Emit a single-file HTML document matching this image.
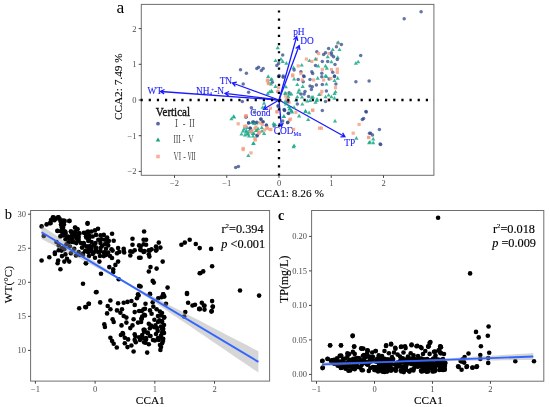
<!DOCTYPE html>
<html><head><meta charset="utf-8"><title>CCA figure</title><style>
*{margin:0;padding:0}
html,body{width:550px;height:407px;overflow:hidden;background:#fff}
svg{display:block}
text{font-family:"Liberation Serif","Noto Serif CJK SC",serif}
.tk{font-size:8.5px;fill:#4d4d4d}
.at{font-size:11.3px;fill:#000;stroke:#000;stroke-width:0.1px}
.pl{font-size:15px;fill:#000}
.al{font-size:9.4px;fill:#1a1aff;stroke:#1a1aff;stroke-width:0.1px}
.lt{font-size:11.5px;fill:#111;stroke:#111;stroke-width:0.35px}
.lg{font-size:9.6px;fill:#3d3d3d;text-anchor:middle;font-family:"Liberation Serif","Noto Serif CJK SC",serif}
.rt{font-size:12.3px;fill:#000;stroke:#000;stroke-width:0.15px}
</style></head>
<body><svg width="550" height="407" viewBox="0 0 550 407">
<rect width="550" height="407" fill="#fff"/>
<rect x="141.3" y="4.4" width="292.6" height="170.9" fill="none" stroke="#6e6e6e" stroke-width="1"/>
<line x1="174.5" y1="175.3" x2="174.5" y2="177.9" stroke="#444" stroke-width="1"/>
<text x="174.5" y="185.8" class="tk" text-anchor="middle">−2</text>
<line x1="226.75" y1="175.3" x2="226.75" y2="177.9" stroke="#444" stroke-width="1"/>
<text x="226.75" y="185.8" class="tk" text-anchor="middle">−1</text>
<line x1="279.0" y1="175.3" x2="279.0" y2="177.9" stroke="#444" stroke-width="1"/>
<text x="279.0" y="185.8" class="tk" text-anchor="middle">0</text>
<line x1="331.25" y1="175.3" x2="331.25" y2="177.9" stroke="#444" stroke-width="1"/>
<text x="331.25" y="185.8" class="tk" text-anchor="middle">1</text>
<line x1="383.5" y1="175.3" x2="383.5" y2="177.9" stroke="#444" stroke-width="1"/>
<text x="383.5" y="185.8" class="tk" text-anchor="middle">2</text>
<line x1="138.70000000000002" y1="28.599999999999994" x2="141.3" y2="28.599999999999994" stroke="#444" stroke-width="1"/>
<text x="136.5" y="31.499999999999993" class="tk" text-anchor="end">2</text>
<line x1="138.70000000000002" y1="64.3" x2="141.3" y2="64.3" stroke="#444" stroke-width="1"/>
<text x="136.5" y="67.2" class="tk" text-anchor="end">1</text>
<line x1="138.70000000000002" y1="100.0" x2="141.3" y2="100.0" stroke="#444" stroke-width="1"/>
<text x="136.5" y="102.9" class="tk" text-anchor="end">0</text>
<line x1="138.70000000000002" y1="135.7" x2="141.3" y2="135.7" stroke="#444" stroke-width="1"/>
<text x="136.5" y="138.6" class="tk" text-anchor="end">−1</text>
<line x1="138.70000000000002" y1="171.4" x2="141.3" y2="171.4" stroke="#444" stroke-width="1"/>
<text x="136.5" y="174.3" class="tk" text-anchor="end">−2</text>
<path d="M279 100L160.5 91.5M164.2 94L160.5 91.5L164.5 89.5" fill="none" stroke="#1a1aff" stroke-width="1.3"/>
<path d="M279 100L225 93.3M228.6 96L225 93.3L229.1 91.5" fill="none" stroke="#1a1aff" stroke-width="1.3"/>
<path d="M279 100L232.4 83M235.3 86.4L232.4 83L236.8 82.2" fill="none" stroke="#1a1aff" stroke-width="1.3"/>
<path d="M279 100L296.7 36.4M293.5 39.6L296.7 36.4L297.8 40.8" fill="none" stroke="#1a1aff" stroke-width="1.3"/>
<path d="M279 100L299.2 45.6M295.7 48.5L299.2 45.6L300 50" fill="none" stroke="#1a1aff" stroke-width="1.3"/>
<path d="M279 100L263.5 109.3M268 109.2L263.5 109.3L265.7 105.4" fill="none" stroke="#1a1aff" stroke-width="1.3"/>
<path d="M279 100L281.4 126.8M283.3 122.7L281.4 126.8L278.8 123.1" fill="none" stroke="#1a1aff" stroke-width="1.3"/>
<path d="M279 100L344.9 136.7M342.6 132.8L344.9 136.7L340.4 136.8" fill="none" stroke="#1a1aff" stroke-width="1.3"/>
<g class="al" text-anchor="middle"><text x="154.85" y="94.2">WT</text><text x="210" y="93.8">NH<tspan font-size="5" dy="0.8">4</tspan><tspan font-size="5" dx="-0.6" dy="-3.6">+</tspan><tspan dy="2.8">-N</tspan></text><text x="225.9" y="84.3">TN</text><text x="298.9" y="35.3">pH</text><text x="307" y="44.2">DO</text><text x="260.4" y="115.9">Cond</text><text x="287.5" y="134.2">COD<tspan font-size="5.5" dy="1.5">Mn</tspan></text><text x="349.8" y="145.8">TP</text></g>
<path d="M277.7 45.6L279.8 49.2L275.6 49.2Z" fill="#1aa98a" fill-opacity="0.85"/>
<circle cx="282.7" cy="55" r="1.75" fill="#2d4789" fill-opacity="0.75"/>
<path d="M275.5 58.4L277.6 62L273.4 62Z" fill="#1aa98a" fill-opacity="0.85"/>
<path d="M280.9 57L283 60.6L278.8 60.6Z" fill="#1aa98a" fill-opacity="0.85"/>
<path d="M282.7 59.3L284.8 62.9L280.6 62.9Z" fill="#1aa98a" fill-opacity="0.85"/>
<path d="M286.4 61.1L288.5 64.7L284.3 64.7Z" fill="#1aa98a" fill-opacity="0.85"/>
<circle cx="276.8" cy="65.5" r="1.75" fill="#2d4789" fill-opacity="0.75"/>
<circle cx="278.6" cy="63.6" r="1.75" fill="#2d4789" fill-opacity="0.75"/>
<path d="M293.6 65.6L295.7 69.2L291.5 69.2Z" fill="#1aa98a" fill-opacity="0.85"/>
<circle cx="294.1" cy="70" r="1.75" fill="#2d4789" fill-opacity="0.75"/>
<rect x="296.6" y="64.3" width="3.2" height="3.2" fill="#f59c80" fill-opacity="0.8"/>
<path d="M301.8 62.9L303.9 66.5L299.7 66.5Z" fill="#1aa98a" fill-opacity="0.85"/>
<rect x="304.8" y="57.5" width="3.2" height="3.2" fill="#f59c80" fill-opacity="0.8"/>
<path d="M309.5 58.4L311.6 62L307.4 62Z" fill="#1aa98a" fill-opacity="0.85"/>
<rect x="310.2" y="59.8" width="3.2" height="3.2" fill="#f59c80" fill-opacity="0.8"/>
<rect x="314.8" y="57.5" width="3.2" height="3.2" fill="#f59c80" fill-opacity="0.8"/>
<path d="M315.5 57L317.6 60.6L313.4 60.6Z" fill="#1aa98a" fill-opacity="0.85"/>
<circle cx="316.8" cy="51.8" r="1.75" fill="#2d4789" fill-opacity="0.75"/>
<rect x="317" y="52" width="3.2" height="3.2" fill="#f59c80" fill-opacity="0.8"/>
<circle cx="315.5" cy="65.5" r="1.75" fill="#2d4789" fill-opacity="0.75"/>
<path d="M318.2 63.8L320.3 67.4L316.1 67.4Z" fill="#1aa98a" fill-opacity="0.85"/>
<circle cx="300.9" cy="71.8" r="1.75" fill="#2d4789" fill-opacity="0.75"/>
<rect x="299.3" y="72" width="3.2" height="3.2" fill="#f59c80" fill-opacity="0.8"/>
<circle cx="311.8" cy="71.8" r="1.75" fill="#2d4789" fill-opacity="0.75"/>
<circle cx="312.7" cy="73.6" r="1.75" fill="#2d4789" fill-opacity="0.75"/>
<circle cx="279.1" cy="75.5" r="1.75" fill="#2d4789" fill-opacity="0.75"/>
<circle cx="283.2" cy="75.9" r="1.75" fill="#2d4789" fill-opacity="0.75"/>
<rect x="291.1" y="73.4" width="3.2" height="3.2" fill="#f59c80" fill-opacity="0.8"/>
<circle cx="303.6" cy="75.9" r="1.75" fill="#2d4789" fill-opacity="0.75"/>
<rect x="336.1" y="41.6" width="3.2" height="3.2" fill="#f59c80" fill-opacity="0.8"/>
<path d="M338.2 40.2L340.3 43.8L336.1 43.8Z" fill="#1aa98a" fill-opacity="0.85"/>
<circle cx="341.4" cy="44.4" r="1.75" fill="#2d4789" fill-opacity="0.75"/>
<circle cx="336.4" cy="46.8" r="1.75" fill="#2d4789" fill-opacity="0.75"/>
<circle cx="328.6" cy="48.6" r="1.75" fill="#2d4789" fill-opacity="0.75"/>
<path d="M332.7 47.4L334.8 51L330.6 51Z" fill="#1aa98a" fill-opacity="0.85"/>
<path d="M339.5 47.4L341.6 51L337.4 51Z" fill="#1aa98a" fill-opacity="0.85"/>
<circle cx="325.5" cy="52.7" r="1.75" fill="#2d4789" fill-opacity="0.75"/>
<circle cx="323.6" cy="54.5" r="1.75" fill="#2d4789" fill-opacity="0.75"/>
<rect x="327.5" y="52" width="3.2" height="3.2" fill="#f59c80" fill-opacity="0.8"/>
<circle cx="331.4" cy="52.7" r="1.75" fill="#2d4789" fill-opacity="0.75"/>
<circle cx="331.8" cy="55" r="1.75" fill="#2d4789" fill-opacity="0.75"/>
<path d="M327.7 54.7L329.8 58.3L325.6 58.3Z" fill="#1aa98a" fill-opacity="0.85"/>
<circle cx="333.6" cy="56.8" r="1.75" fill="#2d4789" fill-opacity="0.75"/>
<path d="M337.7 55.2L339.8 58.8L335.6 58.8Z" fill="#1aa98a" fill-opacity="0.85"/>
<circle cx="337.3" cy="59.5" r="1.75" fill="#2d4789" fill-opacity="0.75"/>
<circle cx="322.3" cy="61.4" r="1.75" fill="#2d4789" fill-opacity="0.75"/>
<circle cx="327.7" cy="61.4" r="1.75" fill="#2d4789" fill-opacity="0.75"/>
<path d="M331.4 59.7L333.5 63.3L329.3 63.3Z" fill="#1aa98a" fill-opacity="0.85"/>
<circle cx="335" cy="64.5" r="1.75" fill="#2d4789" fill-opacity="0.75"/>
<path d="M325.5 63.8L327.6 67.4L323.4 67.4Z" fill="#1aa98a" fill-opacity="0.85"/>
<path d="M326.8 66.1L328.9 69.7L324.7 69.7Z" fill="#1aa98a" fill-opacity="0.85"/>
<rect x="320.7" y="67.9" width="3.2" height="3.2" fill="#f59c80" fill-opacity="0.8"/>
<rect x="329.8" y="67.9" width="3.2" height="3.2" fill="#f59c80" fill-opacity="0.8"/>
<rect x="335.7" y="67.5" width="3.2" height="3.2" fill="#f59c80" fill-opacity="0.8"/>
<rect x="335.7" y="70.7" width="3.2" height="3.2" fill="#f59c80" fill-opacity="0.8"/>
<circle cx="332.7" cy="72.3" r="1.75" fill="#2d4789" fill-opacity="0.75"/>
<circle cx="321.8" cy="73.2" r="1.75" fill="#2d4789" fill-opacity="0.75"/>
<circle cx="334.5" cy="75.9" r="1.75" fill="#2d4789" fill-opacity="0.75"/>
<path d="M325.5 73.8L327.6 77.4L323.4 77.4Z" fill="#1aa98a" fill-opacity="0.85"/>
<circle cx="360.7" cy="55.6" r="1.75" fill="#2d4789" fill-opacity="0.75"/>
<path d="M355.9 61.1L358 64.7L353.8 64.7Z" fill="#1aa98a" fill-opacity="0.85"/>
<path d="M358.2 59.7L360.3 63.3L356.1 63.3Z" fill="#1aa98a" fill-opacity="0.85"/>
<circle cx="321.8" cy="76.8" r="1.75" fill="#2d4789" fill-opacity="0.75"/>
<rect x="322" y="78.4" width="3.2" height="3.2" fill="#f59c80" fill-opacity="0.8"/>
<path d="M326.4 74.3L328.5 77.9L324.3 77.9Z" fill="#1aa98a" fill-opacity="0.85"/>
<circle cx="329.1" cy="79.1" r="1.75" fill="#2d4789" fill-opacity="0.75"/>
<rect x="329.3" y="77" width="3.2" height="3.2" fill="#f59c80" fill-opacity="0.8"/>
<circle cx="334.5" cy="76.4" r="1.75" fill="#2d4789" fill-opacity="0.75"/>
<path d="M337.7 76.1L339.8 79.7L335.6 79.7Z" fill="#1aa98a" fill-opacity="0.85"/>
<path d="M334.5 78.4L336.6 82L332.4 82Z" fill="#1aa98a" fill-opacity="0.85"/>
<circle cx="322.3" cy="84.5" r="1.75" fill="#2d4789" fill-opacity="0.75"/>
<path d="M326.4 82L328.5 85.6L324.3 85.6Z" fill="#1aa98a" fill-opacity="0.85"/>
<circle cx="335.9" cy="84.1" r="1.75" fill="#2d4789" fill-opacity="0.75"/>
<rect x="333.9" y="86.1" width="3.2" height="3.2" fill="#f59c80" fill-opacity="0.8"/>
<rect x="320.2" y="89.8" width="3.2" height="3.2" fill="#f59c80" fill-opacity="0.8"/>
<circle cx="326.4" cy="90.9" r="1.75" fill="#2d4789" fill-opacity="0.75"/>
<path d="M335.5 89.7L337.6 93.3L333.4 93.3Z" fill="#1aa98a" fill-opacity="0.85"/>
<path d="M334.5 91.5L336.6 95.1L332.4 95.1Z" fill="#1aa98a" fill-opacity="0.85"/>
<rect x="319.3" y="92.5" width="3.2" height="3.2" fill="#f59c80" fill-opacity="0.8"/>
<path d="M325.5 94.7L327.6 98.3L323.4 98.3Z" fill="#1aa98a" fill-opacity="0.85"/>
<path d="M328.6 92.9L330.7 96.5L326.5 96.5Z" fill="#1aa98a" fill-opacity="0.85"/>
<path d="M331.4 94.7L333.5 98.3L329.3 98.3Z" fill="#1aa98a" fill-opacity="0.85"/>
<path d="M334.5 96.1L336.6 99.7L332.4 99.7Z" fill="#1aa98a" fill-opacity="0.85"/>
<rect x="327" y="98.4" width="3.2" height="3.2" fill="#f59c80" fill-opacity="0.8"/>
<circle cx="325.5" cy="101.4" r="1.75" fill="#2d4789" fill-opacity="0.75"/>
<circle cx="355.9" cy="81.8" r="1.75" fill="#2d4789" fill-opacity="0.75"/>
<circle cx="369.1" cy="80.9" r="1.75" fill="#2d4789" fill-opacity="0.75"/>
<circle cx="322.3" cy="110.5" r="1.75" fill="#2d4789" fill-opacity="0.75"/>
<circle cx="365.9" cy="111.4" r="1.75" fill="#2d4789" fill-opacity="0.75"/>
<path d="M335 118.8L337.1 122.4L332.9 122.4Z" fill="#1aa98a" fill-opacity="0.85"/>
<circle cx="362.3" cy="119.5" r="1.75" fill="#2d4789" fill-opacity="0.75"/>
<circle cx="363.6" cy="118.6" r="1.75" fill="#2d4789" fill-opacity="0.75"/>
<rect x="319.8" y="126.6" width="3.2" height="3.2" fill="#f59c80" fill-opacity="0.8"/>
<rect x="357.5" y="122.9" width="3.2" height="3.2" fill="#f59c80" fill-opacity="0.8"/>
<rect x="351.6" y="131.6" width="3.2" height="3.2" fill="#f59c80" fill-opacity="0.8"/>
<path d="M356.4 136.1L358.5 139.7L354.3 139.7Z" fill="#1aa98a" fill-opacity="0.85"/>
<rect x="367" y="135.7" width="3.2" height="3.2" fill="#f59c80" fill-opacity="0.8"/>
<path d="M369.1 140.6L371.2 144.2L367 144.2Z" fill="#1aa98a" fill-opacity="0.85"/>
<circle cx="369.5" cy="133.2" r="1.75" fill="#2d4789" fill-opacity="0.75"/>
<circle cx="366.3" cy="111.9" r="1.75" fill="#2d4789" fill-opacity="0.75"/>
<circle cx="379.4" cy="129.5" r="1.75" fill="#2d4789" fill-opacity="0.75"/>
<circle cx="370.6" cy="133.2" r="1.75" fill="#2d4789" fill-opacity="0.75"/>
<circle cx="372.5" cy="135.1" r="1.75" fill="#2d4789" fill-opacity="0.75"/>
<rect x="367.2" y="136" width="3.2" height="3.2" fill="#f59c80" fill-opacity="0.8"/>
<path d="M373.2 136.8L375.3 140.4L371.1 140.4Z" fill="#1aa98a" fill-opacity="0.85"/>
<path d="M370 139.9L372.1 143.5L367.9 143.5Z" fill="#1aa98a" fill-opacity="0.85"/>
<path d="M373.2 140.6L375.3 144.2L371.1 144.2Z" fill="#1aa98a" fill-opacity="0.85"/>
<circle cx="380.1" cy="143.9" r="1.75" fill="#2d4789" fill-opacity="0.75"/>
<circle cx="380.7" cy="144.5" r="1.75" fill="#2d4789" fill-opacity="0.75"/>
<circle cx="404.2" cy="18.7" r="1.75" fill="#2d4789" fill-opacity="0.75"/>
<circle cx="421.1" cy="11.7" r="1.75" fill="#2d4789" fill-opacity="0.75"/>
<circle cx="278.6" cy="76.4" r="1.75" fill="#2d4789" fill-opacity="0.75"/>
<circle cx="283.2" cy="77.3" r="1.75" fill="#2d4789" fill-opacity="0.75"/>
<rect x="291.1" y="74.3" width="3.2" height="3.2" fill="#f59c80" fill-opacity="0.8"/>
<path d="M294.1 77L296.2 80.6L292 80.6Z" fill="#1aa98a" fill-opacity="0.85"/>
<circle cx="298.2" cy="79.5" r="1.75" fill="#2d4789" fill-opacity="0.75"/>
<circle cx="303.2" cy="81.8" r="1.75" fill="#2d4789" fill-opacity="0.75"/>
<rect x="300.7" y="78.4" width="3.2" height="3.2" fill="#f59c80" fill-opacity="0.8"/>
<circle cx="304.1" cy="76.4" r="1.75" fill="#2d4789" fill-opacity="0.75"/>
<circle cx="310" cy="79.5" r="1.75" fill="#2d4789" fill-opacity="0.75"/>
<rect x="312" y="78.4" width="3.2" height="3.2" fill="#f59c80" fill-opacity="0.8"/>
<path d="M317.7 76.1L319.8 79.7L315.6 79.7Z" fill="#1aa98a" fill-opacity="0.85"/>
<path d="M271.8 77L273.9 80.6L269.7 80.6Z" fill="#1aa98a" fill-opacity="0.85"/>
<circle cx="272.3" cy="82.3" r="1.75" fill="#2d4789" fill-opacity="0.75"/>
<path d="M270.9 82L273 85.6L268.8 85.6Z" fill="#1aa98a" fill-opacity="0.85"/>
<path d="M275.5 84.3L277.6 87.9L273.4 87.9Z" fill="#1aa98a" fill-opacity="0.85"/>
<rect x="277" y="86.1" width="3.2" height="3.2" fill="#f59c80" fill-opacity="0.8"/>
<circle cx="278.2" cy="91.8" r="1.75" fill="#2d4789" fill-opacity="0.75"/>
<path d="M271.8 89.3L273.9 92.9L269.7 92.9Z" fill="#1aa98a" fill-opacity="0.85"/>
<path d="M285.9 84.7L288 88.3L283.8 88.3Z" fill="#1aa98a" fill-opacity="0.85"/>
<path d="M297.3 82.4L299.4 86L295.2 86Z" fill="#1aa98a" fill-opacity="0.85"/>
<path d="M302.7 84.3L304.8 87.9L300.6 87.9Z" fill="#1aa98a" fill-opacity="0.85"/>
<circle cx="310" cy="85.9" r="1.75" fill="#2d4789" fill-opacity="0.75"/>
<circle cx="312.3" cy="86.8" r="1.75" fill="#2d4789" fill-opacity="0.75"/>
<circle cx="316.4" cy="85" r="1.75" fill="#2d4789" fill-opacity="0.75"/>
<circle cx="311.4" cy="89.5" r="1.75" fill="#2d4789" fill-opacity="0.75"/>
<path d="M299.1 87.9L301.2 91.5L297 91.5Z" fill="#1aa98a" fill-opacity="0.85"/>
<path d="M298.2 90.2L300.3 93.8L296.1 93.8Z" fill="#1aa98a" fill-opacity="0.85"/>
<circle cx="300.9" cy="94.1" r="1.75" fill="#2d4789" fill-opacity="0.75"/>
<circle cx="304.1" cy="94.1" r="1.75" fill="#2d4789" fill-opacity="0.75"/>
<circle cx="305" cy="91.4" r="1.75" fill="#2d4789" fill-opacity="0.75"/>
<path d="M285.9 91.1L288 94.7L283.8 94.7Z" fill="#1aa98a" fill-opacity="0.85"/>
<circle cx="289.1" cy="92.7" r="1.75" fill="#2d4789" fill-opacity="0.75"/>
<path d="M291.4 92L293.5 95.6L289.3 95.6Z" fill="#1aa98a" fill-opacity="0.85"/>
<path d="M288.2 94.3L290.3 97.9L286.1 97.9Z" fill="#1aa98a" fill-opacity="0.85"/>
<rect x="283.9" y="94.3" width="3.2" height="3.2" fill="#f59c80" fill-opacity="0.8"/>
<path d="M297.3 94.7L299.4 98.3L295.2 98.3Z" fill="#1aa98a" fill-opacity="0.85"/>
<circle cx="308.6" cy="96.4" r="1.75" fill="#2d4789" fill-opacity="0.75"/>
<path d="M311.8 95.2L313.9 98.8L309.7 98.8Z" fill="#1aa98a" fill-opacity="0.85"/>
<path d="M319.1 92.4L321.2 96L317 96Z" fill="#1aa98a" fill-opacity="0.85"/>
<rect x="284.8" y="97.9" width="3.2" height="3.2" fill="#f59c80" fill-opacity="0.8"/>
<rect x="287.5" y="100.7" width="3.2" height="3.2" fill="#f59c80" fill-opacity="0.8"/>
<path d="M307.3 98.8L309.4 102.4L305.2 102.4Z" fill="#1aa98a" fill-opacity="0.85"/>
<path d="M310 98.4L312.1 102L307.9 102Z" fill="#1aa98a" fill-opacity="0.85"/>
<path d="M316.8 98.4L318.9 102L314.7 102Z" fill="#1aa98a" fill-opacity="0.85"/>
<path d="M315.5 100.2L317.6 103.8L313.4 103.8Z" fill="#1aa98a" fill-opacity="0.85"/>
<circle cx="297.3" cy="104.1" r="1.75" fill="#2d4789" fill-opacity="0.75"/>
<path d="M302.3 102L304.4 105.6L300.2 105.6Z" fill="#1aa98a" fill-opacity="0.85"/>
<path d="M294.1 105.2L296.2 108.8L292 108.8Z" fill="#1aa98a" fill-opacity="0.85"/>
<path d="M290 106.5L292.1 110.1L287.9 110.1Z" fill="#1aa98a" fill-opacity="0.85"/>
<circle cx="284.5" cy="110" r="1.75" fill="#2d4789" fill-opacity="0.75"/>
<path d="M305.5 108.8L307.6 112.4L303.4 112.4Z" fill="#1aa98a" fill-opacity="0.85"/>
<rect x="311.1" y="108.4" width="3.2" height="3.2" fill="#f59c80" fill-opacity="0.8"/>
<rect x="268.9" y="106.6" width="3.2" height="3.2" fill="#f59c80" fill-opacity="0.8"/>
<circle cx="278.2" cy="105.5" r="1.75" fill="#2d4789" fill-opacity="0.75"/>
<path d="M270.9 77.4L273 81L268.8 81Z" fill="#1aa98a" fill-opacity="0.85"/>
<rect x="275.7" y="110.2" width="3.2" height="3.2" fill="#f59c80" fill-opacity="0.8"/>
<circle cx="284.5" cy="110.5" r="1.75" fill="#2d4789" fill-opacity="0.75"/>
<path d="M291.4 108.8L293.5 112.4L289.3 112.4Z" fill="#1aa98a" fill-opacity="0.85"/>
<circle cx="288.6" cy="113.6" r="1.75" fill="#2d4789" fill-opacity="0.75"/>
<rect x="294.3" y="110.7" width="3.2" height="3.2" fill="#f59c80" fill-opacity="0.8"/>
<path d="M305.5 109.3L307.6 112.9L303.4 112.9Z" fill="#1aa98a" fill-opacity="0.85"/>
<path d="M309.1 110.6L311.2 114.2L307 114.2Z" fill="#1aa98a" fill-opacity="0.85"/>
<rect x="311.1" y="108.9" width="3.2" height="3.2" fill="#f59c80" fill-opacity="0.8"/>
<path d="M299.1 113.8L301.2 117.4L297 117.4Z" fill="#1aa98a" fill-opacity="0.85"/>
<path d="M283.6 114.3L285.7 117.9L281.5 117.9Z" fill="#1aa98a" fill-opacity="0.85"/>
<rect x="287.9" y="118.4" width="3.2" height="3.2" fill="#f59c80" fill-opacity="0.8"/>
<circle cx="287.7" cy="122.7" r="1.75" fill="#2d4789" fill-opacity="0.75"/>
<path d="M308.2 117.4L310.3 121L306.1 121Z" fill="#1aa98a" fill-opacity="0.85"/>
<circle cx="282.7" cy="120.9" r="1.75" fill="#2d4789" fill-opacity="0.75"/>
<path d="M273.6 121.5L275.7 125.1L271.5 125.1Z" fill="#1aa98a" fill-opacity="0.85"/>
<circle cx="274.1" cy="125.9" r="1.75" fill="#2d4789" fill-opacity="0.75"/>
<rect x="269.3" y="127.9" width="3.2" height="3.2" fill="#f59c80" fill-opacity="0.8"/>
<rect x="292" y="127.9" width="3.2" height="3.2" fill="#f59c80" fill-opacity="0.8"/>
<path d="M294.1 143.4L296.2 147L292 147Z" fill="#1aa98a" fill-opacity="0.85"/>
<rect x="317.9" y="126.6" width="3.2" height="3.2" fill="#f59c80" fill-opacity="0.8"/>
<path d="M293.6 144.7L295.7 148.3L291.5 148.3Z" fill="#1aa98a" fill-opacity="0.85"/>
<circle cx="240.5" cy="69.8" r="1.75" fill="#2d4789" fill-opacity="0.75"/>
<circle cx="246.4" cy="73.2" r="1.75" fill="#2d4789" fill-opacity="0.75"/>
<circle cx="256.8" cy="68.6" r="1.75" fill="#2d4789" fill-opacity="0.75"/>
<circle cx="258.6" cy="67.3" r="1.75" fill="#2d4789" fill-opacity="0.75"/>
<circle cx="261.4" cy="70.5" r="1.75" fill="#2d4789" fill-opacity="0.75"/>
<circle cx="263.2" cy="68.6" r="1.75" fill="#2d4789" fill-opacity="0.75"/>
<circle cx="243.2" cy="84.1" r="1.75" fill="#2d4789" fill-opacity="0.75"/>
<path d="M268.2 74.3L270.3 77.9L266.1 77.9Z" fill="#1aa98a" fill-opacity="0.85"/>
<rect x="266.1" y="78.4" width="3.2" height="3.2" fill="#f59c80" fill-opacity="0.8"/>
<path d="M268.6 80.6L270.7 84.2L266.5 84.2Z" fill="#1aa98a" fill-opacity="0.85"/>
<circle cx="248.6" cy="92.3" r="1.75" fill="#2d4789" fill-opacity="0.75"/>
<circle cx="242.3" cy="101.4" r="1.75" fill="#2d4789" fill-opacity="0.75"/>
<circle cx="251.4" cy="107.7" r="1.75" fill="#2d4789" fill-opacity="0.75"/>
<path d="M264.1 101.1L266.2 104.7L262 104.7Z" fill="#1aa98a" fill-opacity="0.85"/>
<path d="M262.7 105.2L264.8 108.8L260.6 108.8Z" fill="#1aa98a" fill-opacity="0.85"/>
<circle cx="254.5" cy="112.3" r="1.75" fill="#2d4789" fill-opacity="0.75"/>
<path d="M267.7 91.5L269.8 95.1L265.6 95.1Z" fill="#1aa98a" fill-opacity="0.85"/>
<rect x="267" y="82" width="3.2" height="3.2" fill="#f59c80" fill-opacity="0.8"/>
<rect x="265.7" y="79.3" width="3.2" height="3.2" fill="#f59c80" fill-opacity="0.8"/>
<path d="M233.6 114.3L235.7 117.9L231.5 117.9Z" fill="#1aa98a" fill-opacity="0.85"/>
<rect x="244.3" y="114.3" width="3.2" height="3.2" fill="#f59c80" fill-opacity="0.8"/>
<path d="M231.4 116.7L233.5 120.3L229.3 120.3Z" fill="#1aa98a" fill-opacity="0.85"/>
<path d="M234.1 114.9L236.2 118.5L232 118.5Z" fill="#1aa98a" fill-opacity="0.85"/>
<path d="M245.9 114.4L248 118L243.8 118Z" fill="#1aa98a" fill-opacity="0.85"/>
<rect x="244.8" y="114.5" width="3.2" height="3.2" fill="#f59c80" fill-opacity="0.8"/>
<rect x="236.6" y="122.2" width="3.2" height="3.2" fill="#f59c80" fill-opacity="0.8"/>
<circle cx="248.6" cy="122.9" r="1.75" fill="#2d4789" fill-opacity="0.75"/>
<path d="M251.8 120.4L253.9 124L249.7 124Z" fill="#1aa98a" fill-opacity="0.85"/>
<circle cx="254.1" cy="122.5" r="1.75" fill="#2d4789" fill-opacity="0.75"/>
<path d="M256.4 120.8L258.5 124.4L254.3 124.4Z" fill="#1aa98a" fill-opacity="0.85"/>
<circle cx="260.9" cy="119.3" r="1.75" fill="#2d4789" fill-opacity="0.75"/>
<circle cx="262.7" cy="122" r="1.75" fill="#2d4789" fill-opacity="0.75"/>
<rect x="258.4" y="121.3" width="3.2" height="3.2" fill="#f59c80" fill-opacity="0.8"/>
<rect x="242.9" y="124.9" width="3.2" height="3.2" fill="#f59c80" fill-opacity="0.8"/>
<path d="M246.4 128.5L248.5 132.1L244.3 132.1Z" fill="#1aa98a" fill-opacity="0.85"/>
<path d="M249.1 129.9L251.2 133.5L247 133.5Z" fill="#1aa98a" fill-opacity="0.85"/>
<circle cx="250.5" cy="128.4" r="1.75" fill="#2d4789" fill-opacity="0.75"/>
<rect x="249.3" y="129.5" width="3.2" height="3.2" fill="#f59c80" fill-opacity="0.8"/>
<path d="M247.3 131.7L249.4 135.3L245.2 135.3Z" fill="#1aa98a" fill-opacity="0.85"/>
<path d="M252.7 131.3L254.8 134.9L250.6 134.9Z" fill="#1aa98a" fill-opacity="0.85"/>
<rect x="253.4" y="126.8" width="3.2" height="3.2" fill="#f59c80" fill-opacity="0.8"/>
<path d="M257.3 128.5L259.4 132.1L255.2 132.1Z" fill="#1aa98a" fill-opacity="0.85"/>
<circle cx="257.3" cy="135.2" r="1.75" fill="#2d4789" fill-opacity="0.75"/>
<rect x="257.5" y="131.3" width="3.2" height="3.2" fill="#f59c80" fill-opacity="0.8"/>
<path d="M261.8 125.4L263.9 129L259.7 129Z" fill="#1aa98a" fill-opacity="0.85"/>
<circle cx="266.4" cy="125.6" r="1.75" fill="#2d4789" fill-opacity="0.75"/>
<rect x="265.7" y="126.8" width="3.2" height="3.2" fill="#f59c80" fill-opacity="0.8"/>
<path d="M264.1 131.3L266.2 134.9L262 134.9Z" fill="#1aa98a" fill-opacity="0.85"/>
<rect x="253.4" y="137.2" width="3.2" height="3.2" fill="#f59c80" fill-opacity="0.8"/>
<path d="M253.2 141.3L255.3 144.9L251.1 144.9Z" fill="#1aa98a" fill-opacity="0.85"/>
<rect x="241.6" y="146.8" width="3.2" height="3.2" fill="#f59c80" fill-opacity="0.8"/>
<path d="M253.7 141.2L255.8 144.8L251.6 144.8Z" fill="#1aa98a" fill-opacity="0.85"/>
<rect x="253.7" y="138.4" width="3.2" height="3.2" fill="#f59c80" fill-opacity="0.8"/>
<rect x="241.5" y="148" width="3.2" height="3.2" fill="#f59c80" fill-opacity="0.8"/>
<rect x="249.4" y="151.3" width="3.2" height="3.2" fill="#f59c80" fill-opacity="0.8"/>
<path d="M248.3 153.4L250.4 157L246.2 157Z" fill="#1aa98a" fill-opacity="0.85"/>
<circle cx="235.7" cy="167.5" r="1.75" fill="#2d4789" fill-opacity="0.75"/>
<circle cx="238.4" cy="166.4" r="1.75" fill="#2d4789" fill-opacity="0.75"/>
<path d="M269.5 89.7L271.6 93.3L267.4 93.3Z" fill="#1aa98a" fill-opacity="0.85"/>
<path d="M271.4 88.8L273.5 92.4L269.3 92.4Z" fill="#1aa98a" fill-opacity="0.85"/>
<rect x="276.1" y="89.8" width="3.2" height="3.2" fill="#f59c80" fill-opacity="0.8"/>
<path d="M285 91.1L287.1 94.7L282.9 94.7Z" fill="#1aa98a" fill-opacity="0.85"/>
<path d="M289.5 92L291.6 95.6L287.4 95.6Z" fill="#1aa98a" fill-opacity="0.85"/>
<rect x="286.1" y="97.5" width="3.2" height="3.2" fill="#f59c80" fill-opacity="0.8"/>
<circle cx="287.7" cy="101.8" r="1.75" fill="#2d4789" fill-opacity="0.75"/>
<path d="M285 99.7L287.1 103.3L282.9 103.3Z" fill="#1aa98a" fill-opacity="0.85"/>
<circle cx="278.2" cy="106.4" r="1.75" fill="#2d4789" fill-opacity="0.75"/>
<circle cx="284.1" cy="109.5" r="1.75" fill="#2d4789" fill-opacity="0.75"/>
<rect x="275.2" y="110.2" width="3.2" height="3.2" fill="#f59c80" fill-opacity="0.8"/>
<path d="M289.5 107L291.6 110.6L287.4 110.6Z" fill="#1aa98a" fill-opacity="0.85"/>
<path d="M291.4 108.4L293.5 112L289.3 112Z" fill="#1aa98a" fill-opacity="0.85"/>
<circle cx="288.2" cy="113.2" r="1.75" fill="#2d4789" fill-opacity="0.75"/>
<path d="M284.1 114.3L286.2 117.9L282 117.9Z" fill="#1aa98a" fill-opacity="0.85"/>
<rect x="288.9" y="117.5" width="3.2" height="3.2" fill="#f59c80" fill-opacity="0.8"/>
<circle cx="287.7" cy="122.3" r="1.75" fill="#2d4789" fill-opacity="0.75"/>
<circle cx="245.9" cy="117.3" r="1.75" fill="#2d4789" fill-opacity="0.75"/>
<rect x="243.9" y="114.8" width="3.2" height="3.2" fill="#f59c80" fill-opacity="0.8"/>
<circle cx="248.6" cy="122.7" r="1.75" fill="#2d4789" fill-opacity="0.75"/>
<circle cx="253.2" cy="121.8" r="1.75" fill="#2d4789" fill-opacity="0.75"/>
<path d="M254.1 121.5L256.2 125.1L252 125.1Z" fill="#1aa98a" fill-opacity="0.85"/>
<circle cx="256.8" cy="122.3" r="1.75" fill="#2d4789" fill-opacity="0.75"/>
<circle cx="260.9" cy="119.1" r="1.75" fill="#2d4789" fill-opacity="0.75"/>
<circle cx="263.2" cy="121.8" r="1.75" fill="#2d4789" fill-opacity="0.75"/>
<rect x="260.7" y="122.9" width="3.2" height="3.2" fill="#f59c80" fill-opacity="0.8"/>
<circle cx="266.4" cy="125" r="1.75" fill="#2d4789" fill-opacity="0.75"/>
<path d="M275 122.4L277.1 126L272.9 126Z" fill="#1aa98a" fill-opacity="0.85"/>
<path d="M244 126.9L246.1 130.5L241.9 130.5Z" fill="#1aa98a" fill-opacity="0.85"/>
<path d="M246 129.9L248.1 133.5L243.9 133.5Z" fill="#1aa98a" fill-opacity="0.85"/>
<path d="M248 131.9L250.1 135.5L245.9 135.5Z" fill="#1aa98a" fill-opacity="0.85"/>
<path d="M250 127.4L252.1 131L247.9 131Z" fill="#1aa98a" fill-opacity="0.85"/>
<path d="M252 129.4L254.1 133L249.9 133Z" fill="#1aa98a" fill-opacity="0.85"/>
<path d="M254 131.4L256.1 135L251.9 135Z" fill="#1aa98a" fill-opacity="0.85"/>
<path d="M247 125.4L249.1 129L244.9 129Z" fill="#1aa98a" fill-opacity="0.85"/>
<path d="M256 128.4L258.1 132L253.9 132Z" fill="#1aa98a" fill-opacity="0.85"/>
<path d="M258 126.4L260.1 130L255.9 130Z" fill="#1aa98a" fill-opacity="0.85"/>
<path d="M249 133.9L251.1 137.5L246.9 137.5Z" fill="#1aa98a" fill-opacity="0.85"/>
<path d="M253 133.9L255.1 137.5L250.9 137.5Z" fill="#1aa98a" fill-opacity="0.85"/>
<path d="M245 132.9L247.1 136.5L242.9 136.5Z" fill="#1aa98a" fill-opacity="0.85"/>
<path d="M241.5 131.9L243.6 135.5L239.4 135.5Z" fill="#1aa98a" fill-opacity="0.85"/>
<path d="M243 128.9L245.1 132.5L240.9 132.5Z" fill="#1aa98a" fill-opacity="0.85"/>
<rect x="250.4" y="129.4" width="3.2" height="3.2" fill="#f59c80" fill-opacity="0.8"/>
<rect x="254.4" y="125.4" width="3.2" height="3.2" fill="#f59c80" fill-opacity="0.8"/>
<rect x="256.9" y="131.4" width="3.2" height="3.2" fill="#f59c80" fill-opacity="0.8"/>
<circle cx="250" cy="128" r="1.75" fill="#2d4789" fill-opacity="0.75"/>
<circle cx="257" cy="136" r="1.75" fill="#2d4789" fill-opacity="0.75"/>
<path d="M262 128.9L264.1 132.5L259.9 132.5Z" fill="#1aa98a" fill-opacity="0.85"/>
<rect x="262.9" y="128.4" width="3.2" height="3.2" fill="#f59c80" fill-opacity="0.8"/>
<rect x="265.4" y="125.9" width="3.2" height="3.2" fill="#f59c80" fill-opacity="0.8"/>
<rect x="268.4" y="127.9" width="3.2" height="3.2" fill="#f59c80" fill-opacity="0.8"/>
<rect x="244.4" y="124.4" width="3.2" height="3.2" fill="#f59c80" fill-opacity="0.8"/>
<rect x="249.4" y="129.6" width="3.2" height="3.2" fill="#f59c80" fill-opacity="0.8"/>
<rect x="257.9" y="130.4" width="3.2" height="3.2" fill="#f59c80" fill-opacity="0.8"/>
<path d="M286 101.9L288.1 105.5L283.9 105.5Z" fill="#1aa98a" fill-opacity="0.85"/>
<path d="M289 104.4L291.1 108L286.9 108Z" fill="#1aa98a" fill-opacity="0.85"/>
<path d="M292 109.9L294.1 113.5L289.9 113.5Z" fill="#1aa98a" fill-opacity="0.85"/>
<path d="M296 97.9L298.1 101.5L293.9 101.5Z" fill="#1aa98a" fill-opacity="0.85"/>
<path d="M302 94.9L304.1 98.5L299.9 98.5Z" fill="#1aa98a" fill-opacity="0.85"/>
<path d="M313 94.9L315.1 98.5L310.9 98.5Z" fill="#1aa98a" fill-opacity="0.85"/>
<path d="M317 96.9L319.1 100.5L314.9 100.5Z" fill="#1aa98a" fill-opacity="0.85"/>
<line x1="140.55" y1="100" x2="434" y2="100" stroke="#000" stroke-width="2.3" stroke-dasharray="2.2 5.95"/>
<line x1="279" y1="175.6" x2="279" y2="4.5" stroke="#000" stroke-width="2.3" stroke-dasharray="2.2 5.95"/>
<text x="155.8" y="115.8" class="lt" textLength="34.2" lengthAdjust="spacingAndGlyphs">Vertical</text>
<circle cx="158" cy="123.7" r="1.9" fill="#5a68a0"/>
<path d="M158 137.4L160.3 141.4L155.7 141.4Z" fill="#1f9e80"/>
<rect x="156.2" y="154.7" width="3.6" height="3.6" fill="#f9b09a"/>
<text x="184.15" y="127.3" class="lg" textLength="24" lengthAdjust="spacingAndGlyphs">Ⅰ - Ⅱ</text>
<text x="184" y="143.3" class="lg" textLength="21.6" lengthAdjust="spacingAndGlyphs">Ⅲ - Ⅴ</text>
<text x="184.45" y="159.9" class="lg" textLength="22" lengthAdjust="spacingAndGlyphs">Ⅵ - Ⅶ</text>
<text x="290.4" y="197.2" class="at" text-anchor="middle">CCA1: 8.26 %</text>
<text transform="translate(122.3 86.7) rotate(-90)" class="at" text-anchor="middle">CCA2: 7.49 %</text>
<text x="116.6" y="13.3" class="pl" style="font-size:17.5px">a</text>
<rect x="30.6" y="210.5" width="239" height="170.6" fill="none" stroke="#6e6e6e" stroke-width="1"/>
<line x1="35.39999999999999" y1="381.1" x2="35.39999999999999" y2="383.70000000000005" stroke="#444" stroke-width="1"/>
<text x="35.39999999999999" y="391.8" class="tk" text-anchor="middle">−1</text>
<line x1="95.1" y1="381.1" x2="95.1" y2="383.70000000000005" stroke="#444" stroke-width="1"/>
<text x="95.1" y="391.8" class="tk" text-anchor="middle">0</text>
<line x1="154.8" y1="381.1" x2="154.8" y2="383.70000000000005" stroke="#444" stroke-width="1"/>
<text x="154.8" y="391.8" class="tk" text-anchor="middle">1</text>
<line x1="214.5" y1="381.1" x2="214.5" y2="383.70000000000005" stroke="#444" stroke-width="1"/>
<text x="214.5" y="391.8" class="tk" text-anchor="middle">2</text>
<line x1="28.0" y1="214.2" x2="30.6" y2="214.2" stroke="#444" stroke-width="1"/>
<text x="26" y="217.1" class="tk" text-anchor="end">30</text>
<line x1="28.0" y1="248.25" x2="30.6" y2="248.25" stroke="#444" stroke-width="1"/>
<text x="26" y="251.15" class="tk" text-anchor="end">25</text>
<line x1="28.0" y1="282.29999999999995" x2="30.6" y2="282.29999999999995" stroke="#444" stroke-width="1"/>
<text x="26" y="285.19999999999993" class="tk" text-anchor="end">20</text>
<line x1="28.0" y1="316.34999999999997" x2="30.6" y2="316.34999999999997" stroke="#444" stroke-width="1"/>
<text x="26" y="319.24999999999994" class="tk" text-anchor="end">15</text>
<line x1="28.0" y1="350.4" x2="30.6" y2="350.4" stroke="#444" stroke-width="1"/>
<text x="26" y="353.29999999999995" class="tk" text-anchor="end">10</text>
<circle cx="41.6" cy="226.4" r="2.3" fill="#000"/>
<circle cx="46.6" cy="224.4" r="2.3" fill="#000"/>
<circle cx="49.7" cy="223.3" r="2.3" fill="#000"/>
<circle cx="51" cy="220" r="2.3" fill="#000"/>
<circle cx="53.8" cy="217.5" r="2.3" fill="#000"/>
<circle cx="56" cy="218.8" r="2.3" fill="#000"/>
<circle cx="58.5" cy="217.2" r="2.3" fill="#000"/>
<circle cx="60.4" cy="221" r="2.3" fill="#000"/>
<circle cx="63.1" cy="220.5" r="2.3" fill="#000"/>
<circle cx="69.2" cy="221" r="2.3" fill="#000"/>
<circle cx="61.5" cy="224.9" r="2.3" fill="#000"/>
<circle cx="63.1" cy="227.7" r="2.3" fill="#000"/>
<circle cx="57.6" cy="231" r="2.3" fill="#000"/>
<circle cx="61.5" cy="231" r="2.3" fill="#000"/>
<circle cx="65.4" cy="232.1" r="2.3" fill="#000"/>
<circle cx="63.1" cy="235.4" r="2.3" fill="#000"/>
<circle cx="68.1" cy="236.5" r="2.3" fill="#000"/>
<circle cx="70.9" cy="231.5" r="2.3" fill="#000"/>
<circle cx="75.3" cy="227.7" r="2.3" fill="#000"/>
<circle cx="77.5" cy="229.3" r="2.3" fill="#000"/>
<circle cx="74.2" cy="233.8" r="2.3" fill="#000"/>
<circle cx="78.6" cy="233.2" r="2.3" fill="#000"/>
<circle cx="72" cy="236.5" r="2.3" fill="#000"/>
<circle cx="76.4" cy="238.2" r="2.3" fill="#000"/>
<circle cx="78.6" cy="239.8" r="2.3" fill="#000"/>
<circle cx="87.5" cy="223.8" r="2.3" fill="#000"/>
<circle cx="85.2" cy="233.2" r="2.3" fill="#000"/>
<circle cx="88" cy="231.5" r="2.3" fill="#000"/>
<circle cx="86.4" cy="237.6" r="2.3" fill="#000"/>
<circle cx="88.6" cy="236.5" r="2.3" fill="#000"/>
<circle cx="72" cy="242" r="2.3" fill="#000"/>
<circle cx="76.4" cy="243.1" r="2.3" fill="#000"/>
<circle cx="83.6" cy="243.1" r="2.3" fill="#000"/>
<circle cx="82" cy="247.6" r="2.3" fill="#000"/>
<circle cx="86.4" cy="246.5" r="2.3" fill="#000"/>
<circle cx="85.2" cy="250.9" r="2.3" fill="#000"/>
<circle cx="88.6" cy="249.8" r="2.3" fill="#000"/>
<circle cx="43.8" cy="236" r="2.3" fill="#000"/>
<circle cx="56.5" cy="242" r="2.3" fill="#000"/>
<circle cx="58.7" cy="245.4" r="2.3" fill="#000"/>
<circle cx="62" cy="248.1" r="2.3" fill="#000"/>
<circle cx="64.3" cy="249.2" r="2.3" fill="#000"/>
<circle cx="54.9" cy="252.5" r="2.3" fill="#000"/>
<circle cx="58.7" cy="250.3" r="2.3" fill="#000"/>
<circle cx="66.5" cy="244.3" r="2.3" fill="#000"/>
<circle cx="69.8" cy="246.5" r="2.3" fill="#000"/>
<circle cx="74.2" cy="248.7" r="2.3" fill="#000"/>
<circle cx="78.6" cy="252" r="2.3" fill="#000"/>
<circle cx="98" cy="228.8" r="2.3" fill="#000"/>
<circle cx="95" cy="230.4" r="2.3" fill="#000"/>
<circle cx="91.6" cy="231.5" r="2.3" fill="#000"/>
<circle cx="87.2" cy="232.1" r="2.3" fill="#000"/>
<circle cx="89.4" cy="235.4" r="2.3" fill="#000"/>
<circle cx="86.1" cy="236.5" r="2.3" fill="#000"/>
<circle cx="92.7" cy="236.5" r="2.3" fill="#000"/>
<circle cx="96" cy="234.9" r="2.3" fill="#000"/>
<circle cx="100.5" cy="235.4" r="2.3" fill="#000"/>
<circle cx="103.8" cy="234.9" r="2.3" fill="#000"/>
<circle cx="107.1" cy="237.6" r="2.3" fill="#000"/>
<circle cx="112.1" cy="233.8" r="2.3" fill="#000"/>
<circle cx="113.7" cy="240.7" r="2.3" fill="#000"/>
<circle cx="108.8" cy="240.9" r="2.3" fill="#000"/>
<circle cx="104.9" cy="239.8" r="2.3" fill="#000"/>
<circle cx="101.6" cy="239.3" r="2.3" fill="#000"/>
<circle cx="98.3" cy="239.8" r="2.3" fill="#000"/>
<circle cx="88.3" cy="240.9" r="2.3" fill="#000"/>
<circle cx="91.6" cy="242" r="2.3" fill="#000"/>
<circle cx="95.5" cy="243.1" r="2.3" fill="#000"/>
<circle cx="100.5" cy="243.1" r="2.3" fill="#000"/>
<circle cx="104.9" cy="244.3" r="2.3" fill="#000"/>
<circle cx="108.2" cy="245.4" r="2.3" fill="#000"/>
<circle cx="87.2" cy="246.5" r="2.3" fill="#000"/>
<circle cx="91.6" cy="248.1" r="2.3" fill="#000"/>
<circle cx="96" cy="247.6" r="2.3" fill="#000"/>
<circle cx="100.5" cy="248.1" r="2.3" fill="#000"/>
<circle cx="106" cy="248.7" r="2.3" fill="#000"/>
<circle cx="111.5" cy="249.2" r="2.3" fill="#000"/>
<circle cx="88.3" cy="252" r="2.3" fill="#000"/>
<circle cx="93.8" cy="252.5" r="2.3" fill="#000"/>
<circle cx="99.4" cy="252" r="2.3" fill="#000"/>
<circle cx="103.8" cy="252.5" r="2.3" fill="#000"/>
<circle cx="108.2" cy="252.5" r="2.3" fill="#000"/>
<circle cx="118.1" cy="248.1" r="2.3" fill="#000"/>
<circle cx="123.7" cy="248.7" r="2.3" fill="#000"/>
<circle cx="119.3" cy="252" r="2.3" fill="#000"/>
<circle cx="124.2" cy="252.5" r="2.3" fill="#000"/>
<circle cx="132.5" cy="238.7" r="2.3" fill="#000"/>
<circle cx="132.5" cy="244.8" r="2.3" fill="#000"/>
<circle cx="139.1" cy="245.4" r="2.3" fill="#000"/>
<circle cx="130.3" cy="251.4" r="2.3" fill="#000"/>
<circle cx="134.7" cy="250.3" r="2.3" fill="#000"/>
<circle cx="140.2" cy="249.8" r="2.3" fill="#000"/>
<circle cx="144.1" cy="231.5" r="2.3" fill="#000"/>
<circle cx="143.6" cy="239.8" r="2.3" fill="#000"/>
<circle cx="143.6" cy="244.3" r="2.3" fill="#000"/>
<circle cx="143.6" cy="252" r="2.3" fill="#000"/>
<circle cx="146.1" cy="239.8" r="2.3" fill="#000"/>
<circle cx="146.1" cy="244.8" r="2.3" fill="#000"/>
<circle cx="140.6" cy="246.5" r="2.3" fill="#000"/>
<circle cx="141.1" cy="250.3" r="2.3" fill="#000"/>
<circle cx="144.4" cy="251.4" r="2.3" fill="#000"/>
<circle cx="148.8" cy="250.3" r="2.3" fill="#000"/>
<circle cx="151.6" cy="249.2" r="2.3" fill="#000"/>
<circle cx="156" cy="246.5" r="2.3" fill="#000"/>
<circle cx="158.8" cy="242.6" r="2.3" fill="#000"/>
<circle cx="160.4" cy="247.6" r="2.3" fill="#000"/>
<circle cx="156.6" cy="249.8" r="2.3" fill="#000"/>
<circle cx="148.8" cy="254.2" r="2.3" fill="#000"/>
<circle cx="181.4" cy="244.8" r="2.3" fill="#000"/>
<circle cx="184.8" cy="242.6" r="2.3" fill="#000"/>
<circle cx="189.7" cy="239.8" r="2.3" fill="#000"/>
<circle cx="195.8" cy="244" r="2.3" fill="#000"/>
<circle cx="199.7" cy="248.1" r="2.3" fill="#000"/>
<circle cx="211.1" cy="248.9" r="2.3" fill="#000"/>
<circle cx="212.1" cy="266.2" r="2.3" fill="#000"/>
<circle cx="203.2" cy="271.4" r="2.3" fill="#000"/>
<circle cx="200.5" cy="273" r="2.3" fill="#000"/>
<circle cx="41.6" cy="260.5" r="2.3" fill="#000"/>
<circle cx="49.3" cy="257.2" r="2.3" fill="#000"/>
<circle cx="54.9" cy="253.9" r="2.3" fill="#000"/>
<circle cx="61.5" cy="250.6" r="2.3" fill="#000"/>
<circle cx="62" cy="256.1" r="2.3" fill="#000"/>
<circle cx="58.2" cy="260.5" r="2.3" fill="#000"/>
<circle cx="57.6" cy="263.3" r="2.3" fill="#000"/>
<circle cx="64.3" cy="261.6" r="2.3" fill="#000"/>
<circle cx="67" cy="258.8" r="2.3" fill="#000"/>
<circle cx="69.2" cy="261.6" r="2.3" fill="#000"/>
<circle cx="65.4" cy="254.4" r="2.3" fill="#000"/>
<circle cx="60.4" cy="269.3" r="2.3" fill="#000"/>
<circle cx="85.8" cy="263.3" r="2.3" fill="#000"/>
<circle cx="83" cy="283.7" r="2.3" fill="#000"/>
<circle cx="70.9" cy="253.3" r="2.3" fill="#000"/>
<circle cx="80" cy="255" r="2.3" fill="#000"/>
<circle cx="83" cy="253.5" r="2.3" fill="#000"/>
<circle cx="76" cy="255.5" r="2.3" fill="#000"/>
<circle cx="86.1" cy="263.3" r="2.3" fill="#000"/>
<circle cx="88.3" cy="252.2" r="2.3" fill="#000"/>
<circle cx="92.7" cy="253.9" r="2.3" fill="#000"/>
<circle cx="95" cy="257.7" r="2.3" fill="#000"/>
<circle cx="99.4" cy="261.6" r="2.3" fill="#000"/>
<circle cx="103.8" cy="256.1" r="2.3" fill="#000"/>
<circle cx="104.9" cy="252.2" r="2.3" fill="#000"/>
<circle cx="100.5" cy="251.1" r="2.3" fill="#000"/>
<circle cx="112.6" cy="250.6" r="2.3" fill="#000"/>
<circle cx="117" cy="253.3" r="2.3" fill="#000"/>
<circle cx="118.1" cy="261.6" r="2.3" fill="#000"/>
<circle cx="115.4" cy="264.9" r="2.3" fill="#000"/>
<circle cx="109.3" cy="267.1" r="2.3" fill="#000"/>
<circle cx="113.2" cy="269.3" r="2.3" fill="#000"/>
<circle cx="113.2" cy="272.1" r="2.3" fill="#000"/>
<circle cx="101" cy="273.8" r="2.3" fill="#000"/>
<circle cx="118.7" cy="279.3" r="2.3" fill="#000"/>
<circle cx="130.3" cy="255.5" r="2.3" fill="#000"/>
<circle cx="132.5" cy="251.7" r="2.3" fill="#000"/>
<circle cx="139.1" cy="257.7" r="2.3" fill="#000"/>
<circle cx="139.1" cy="285.9" r="2.3" fill="#000"/>
<circle cx="96.6" cy="292" r="2.3" fill="#000"/>
<circle cx="138" cy="294.2" r="2.3" fill="#000"/>
<circle cx="91.6" cy="251.1" r="2.3" fill="#000"/>
<circle cx="98.3" cy="252.2" r="2.3" fill="#000"/>
<circle cx="123.7" cy="251.1" r="2.3" fill="#000"/>
<circle cx="140.6" cy="257.7" r="2.3" fill="#000"/>
<circle cx="149.4" cy="256.6" r="2.3" fill="#000"/>
<circle cx="144.4" cy="251.1" r="2.3" fill="#000"/>
<circle cx="149.9" cy="250.6" r="2.3" fill="#000"/>
<circle cx="156" cy="250.6" r="2.3" fill="#000"/>
<circle cx="162.7" cy="261.6" r="2.3" fill="#000"/>
<circle cx="150.5" cy="267.1" r="2.3" fill="#000"/>
<circle cx="148.8" cy="271.5" r="2.3" fill="#000"/>
<circle cx="156.6" cy="268.6" r="2.3" fill="#000"/>
<circle cx="152.7" cy="280.9" r="2.3" fill="#000"/>
<circle cx="153.8" cy="282.6" r="2.3" fill="#000"/>
<circle cx="140.6" cy="286.5" r="2.3" fill="#000"/>
<circle cx="167.6" cy="287.6" r="2.3" fill="#000"/>
<circle cx="150" cy="294.2" r="2.3" fill="#000"/>
<circle cx="163.2" cy="294.2" r="2.3" fill="#000"/>
<circle cx="187" cy="293.1" r="2.3" fill="#000"/>
<circle cx="199.7" cy="273.2" r="2.3" fill="#000"/>
<circle cx="240" cy="290.5" r="2.3" fill="#000"/>
<circle cx="259.1" cy="295.6" r="2.3" fill="#000"/>
<circle cx="212.1" cy="301.1" r="2.3" fill="#000"/>
<circle cx="201.8" cy="302.7" r="2.3" fill="#000"/>
<circle cx="203.9" cy="305.5" r="2.3" fill="#000"/>
<circle cx="199.1" cy="308.9" r="2.3" fill="#000"/>
<circle cx="204.5" cy="309.6" r="2.3" fill="#000"/>
<circle cx="212.7" cy="306.8" r="2.3" fill="#000"/>
<circle cx="211.4" cy="311.6" r="2.3" fill="#000"/>
<circle cx="195" cy="304.8" r="2.3" fill="#000"/>
<circle cx="96" cy="292.2" r="2.3" fill="#000"/>
<circle cx="88.9" cy="303.8" r="2.3" fill="#000"/>
<circle cx="86.1" cy="307.1" r="2.3" fill="#000"/>
<circle cx="100.2" cy="302.4" r="2.3" fill="#000"/>
<circle cx="110.4" cy="300.5" r="2.3" fill="#000"/>
<circle cx="107.7" cy="306" r="2.3" fill="#000"/>
<circle cx="110.4" cy="309.3" r="2.3" fill="#000"/>
<circle cx="107.1" cy="313.4" r="2.3" fill="#000"/>
<circle cx="118.1" cy="303.3" r="2.3" fill="#000"/>
<circle cx="123.7" cy="302.7" r="2.3" fill="#000"/>
<circle cx="127.5" cy="301.9" r="2.3" fill="#000"/>
<circle cx="131.4" cy="301" r="2.3" fill="#000"/>
<circle cx="136.9" cy="298.3" r="2.3" fill="#000"/>
<circle cx="138.6" cy="295.5" r="2.3" fill="#000"/>
<circle cx="134.7" cy="304.9" r="2.3" fill="#000"/>
<circle cx="117" cy="310.4" r="2.3" fill="#000"/>
<circle cx="122" cy="309.3" r="2.3" fill="#000"/>
<circle cx="120.4" cy="312.7" r="2.3" fill="#000"/>
<circle cx="123.7" cy="316" r="2.3" fill="#000"/>
<circle cx="126.4" cy="317.6" r="2.3" fill="#000"/>
<circle cx="112.6" cy="319.3" r="2.3" fill="#000"/>
<circle cx="113.7" cy="322" r="2.3" fill="#000"/>
<circle cx="126.4" cy="322.6" r="2.3" fill="#000"/>
<circle cx="121.5" cy="325.4" r="2.3" fill="#000"/>
<circle cx="104.3" cy="324.3" r="2.3" fill="#000"/>
<circle cx="104.9" cy="327" r="2.3" fill="#000"/>
<circle cx="134.7" cy="312.1" r="2.3" fill="#000"/>
<circle cx="139.1" cy="311" r="2.3" fill="#000"/>
<circle cx="133.6" cy="319.3" r="2.3" fill="#000"/>
<circle cx="141.4" cy="318.7" r="2.3" fill="#000"/>
<circle cx="138" cy="322.6" r="2.3" fill="#000"/>
<circle cx="132.5" cy="325.4" r="2.3" fill="#000"/>
<circle cx="130.3" cy="328.1" r="2.3" fill="#000"/>
<circle cx="143.6" cy="309.3" r="2.3" fill="#000"/>
<circle cx="144.1" cy="314.9" r="2.3" fill="#000"/>
<circle cx="143.6" cy="329.8" r="2.3" fill="#000"/>
<circle cx="122.6" cy="333.1" r="2.3" fill="#000"/>
<circle cx="134.7" cy="334.2" r="2.3" fill="#000"/>
<circle cx="79.2" cy="308.2" r="2.3" fill="#000"/>
<circle cx="85.2" cy="307.1" r="2.3" fill="#000"/>
<circle cx="88.6" cy="303.8" r="2.3" fill="#000"/>
<circle cx="149.9" cy="293.9" r="2.3" fill="#000"/>
<circle cx="163.2" cy="294.4" r="2.3" fill="#000"/>
<circle cx="164.3" cy="296.6" r="2.3" fill="#000"/>
<circle cx="158.2" cy="298.3" r="2.3" fill="#000"/>
<circle cx="161.5" cy="297.2" r="2.3" fill="#000"/>
<circle cx="166" cy="303.8" r="2.3" fill="#000"/>
<circle cx="152.7" cy="302.2" r="2.3" fill="#000"/>
<circle cx="145.5" cy="303.8" r="2.3" fill="#000"/>
<circle cx="153.3" cy="306.6" r="2.3" fill="#000"/>
<circle cx="145" cy="308.8" r="2.3" fill="#000"/>
<circle cx="150" cy="310.4" r="2.3" fill="#000"/>
<circle cx="156.6" cy="309.3" r="2.3" fill="#000"/>
<circle cx="159.9" cy="311.5" r="2.3" fill="#000"/>
<circle cx="141.7" cy="311" r="2.3" fill="#000"/>
<circle cx="151.6" cy="313.8" r="2.3" fill="#000"/>
<circle cx="145" cy="315.4" r="2.3" fill="#000"/>
<circle cx="161" cy="315.4" r="2.3" fill="#000"/>
<circle cx="164.3" cy="317.6" r="2.3" fill="#000"/>
<circle cx="141.7" cy="318.7" r="2.3" fill="#000"/>
<circle cx="154.4" cy="319.8" r="2.3" fill="#000"/>
<circle cx="159.3" cy="320.4" r="2.3" fill="#000"/>
<circle cx="162.1" cy="322" r="2.3" fill="#000"/>
<circle cx="148.8" cy="323.7" r="2.3" fill="#000"/>
<circle cx="151" cy="326.5" r="2.3" fill="#000"/>
<circle cx="155.5" cy="325.4" r="2.3" fill="#000"/>
<circle cx="161" cy="326.5" r="2.3" fill="#000"/>
<circle cx="163.2" cy="328.7" r="2.3" fill="#000"/>
<circle cx="144.4" cy="329.8" r="2.3" fill="#000"/>
<circle cx="147.7" cy="332.5" r="2.3" fill="#000"/>
<circle cx="157.7" cy="330.9" r="2.3" fill="#000"/>
<circle cx="162.1" cy="332.5" r="2.3" fill="#000"/>
<circle cx="187" cy="293.9" r="2.3" fill="#000"/>
<circle cx="188.1" cy="302.7" r="2.3" fill="#000"/>
<circle cx="192.5" cy="305.5" r="2.3" fill="#000"/>
<circle cx="185.3" cy="312.1" r="2.3" fill="#000"/>
<circle cx="184.2" cy="316.5" r="2.3" fill="#000"/>
<circle cx="199.7" cy="309.3" r="2.3" fill="#000"/>
<circle cx="141.1" cy="322" r="2.3" fill="#000"/>
<circle cx="142.2" cy="316.5" r="2.3" fill="#000"/>
<circle cx="204.5" cy="305.7" r="2.3" fill="#000"/>
<circle cx="199.7" cy="308.8" r="2.3" fill="#000"/>
<circle cx="212.8" cy="306.6" r="2.3" fill="#000"/>
<circle cx="211.8" cy="311" r="2.3" fill="#000"/>
<circle cx="110.4" cy="337.7" r="2.3" fill="#000"/>
<circle cx="112.1" cy="341" r="2.3" fill="#000"/>
<circle cx="113.7" cy="343.8" r="2.3" fill="#000"/>
<circle cx="116.8" cy="347.5" r="2.3" fill="#000"/>
<circle cx="120.9" cy="335" r="2.3" fill="#000"/>
<circle cx="123.1" cy="333.9" r="2.3" fill="#000"/>
<circle cx="124.8" cy="337.7" r="2.3" fill="#000"/>
<circle cx="128.1" cy="339.4" r="2.3" fill="#000"/>
<circle cx="124.8" cy="343.3" r="2.3" fill="#000"/>
<circle cx="127.5" cy="347.1" r="2.3" fill="#000"/>
<circle cx="131.4" cy="345.5" r="2.3" fill="#000"/>
<circle cx="133.6" cy="351.5" r="2.3" fill="#000"/>
<circle cx="135.3" cy="336.1" r="2.3" fill="#000"/>
<circle cx="134.7" cy="339.9" r="2.3" fill="#000"/>
<circle cx="135.8" cy="342.2" r="2.3" fill="#000"/>
<circle cx="139.1" cy="337.2" r="2.3" fill="#000"/>
<circle cx="143" cy="338.3" r="2.3" fill="#000"/>
<circle cx="144.1" cy="331.7" r="2.3" fill="#000"/>
<circle cx="144.1" cy="342.2" r="2.3" fill="#000"/>
<circle cx="144.4" cy="330" r="2.3" fill="#000"/>
<circle cx="147.7" cy="333.3" r="2.3" fill="#000"/>
<circle cx="150.5" cy="336" r="2.3" fill="#000"/>
<circle cx="142.2" cy="337.2" r="2.3" fill="#000"/>
<circle cx="146.1" cy="339.4" r="2.3" fill="#000"/>
<circle cx="145.5" cy="342.7" r="2.3" fill="#000"/>
<circle cx="148.8" cy="344.3" r="2.3" fill="#000"/>
<circle cx="154.9" cy="340.5" r="2.3" fill="#000"/>
<circle cx="158.8" cy="339.9" r="2.3" fill="#000"/>
<circle cx="163.2" cy="338.8" r="2.3" fill="#000"/>
<circle cx="162.1" cy="343.2" r="2.3" fill="#000"/>
<circle cx="161" cy="347.1" r="2.3" fill="#000"/>
<circle cx="160.4" cy="349.9" r="2.3" fill="#000"/>
<circle cx="147.2" cy="352.6" r="2.3" fill="#000"/>
<circle cx="149.9" cy="328.3" r="2.3" fill="#000"/>
<circle cx="154.4" cy="327.2" r="2.3" fill="#000"/>
<circle cx="162.1" cy="327.2" r="2.3" fill="#000"/>
<circle cx="163.2" cy="331.6" r="2.3" fill="#000"/>
<circle cx="161" cy="335.5" r="2.3" fill="#000"/>
<circle cx="151" cy="325.6" r="2.3" fill="#000"/>
<circle cx="142.2" cy="335" r="2.3" fill="#000"/>
<circle cx="52.9" cy="217.2" r="2.3" fill="#000"/>
<circle cx="58.1" cy="217.2" r="2.3" fill="#000"/>
<circle cx="59.6" cy="218.7" r="2.3" fill="#000"/>
<circle cx="50.7" cy="223.1" r="2.3" fill="#000"/>
<circle cx="54.4" cy="220.2" r="2.3" fill="#000"/>
<circle cx="61.8" cy="220.9" r="2.3" fill="#000"/>
<circle cx="64.7" cy="220.9" r="2.3" fill="#000"/>
<circle cx="69.5" cy="220.9" r="2.3" fill="#000"/>
<circle cx="61" cy="224.6" r="2.3" fill="#000"/>
<circle cx="64" cy="224.6" r="2.3" fill="#000"/>
<circle cx="61.8" cy="227.5" r="2.3" fill="#000"/>
<circle cx="57.4" cy="230.8" r="2.3" fill="#000"/>
<circle cx="61" cy="231.2" r="2.3" fill="#000"/>
<circle cx="64.7" cy="231.2" r="2.3" fill="#000"/>
<circle cx="62.5" cy="234.2" r="2.3" fill="#000"/>
<circle cx="65.5" cy="233.4" r="2.3" fill="#000"/>
<circle cx="60.3" cy="236.4" r="2.3" fill="#000"/>
<circle cx="71" cy="231.6" r="2.3" fill="#000"/>
<circle cx="75" cy="227.5" r="2.3" fill="#000"/>
<circle cx="77.3" cy="229" r="2.3" fill="#000"/>
<circle cx="75" cy="232" r="2.3" fill="#000"/>
<circle cx="79.5" cy="233.4" r="2.3" fill="#000"/>
<circle cx="72.1" cy="235.3" r="2.3" fill="#000"/>
<circle cx="75.8" cy="236" r="2.3" fill="#000"/>
<circle cx="78.7" cy="237.1" r="2.3" fill="#000"/>
<circle cx="72.1" cy="239.3" r="2.3" fill="#000"/>
<circle cx="69.2" cy="238.6" r="2.3" fill="#000"/>
<circle cx="66.9" cy="237.1" r="2.3" fill="#000"/>
<circle cx="74.3" cy="242.3" r="2.3" fill="#000"/>
<circle cx="78" cy="240.8" r="2.3" fill="#000"/>
<circle cx="80.9" cy="243" r="2.3" fill="#000"/>
<circle cx="87.6" cy="223.1" r="2.3" fill="#000"/>
<circle cx="83.9" cy="232.7" r="2.3" fill="#000"/>
<circle cx="88.3" cy="232" r="2.3" fill="#000"/>
<circle cx="86.1" cy="236.4" r="2.3" fill="#000"/>
<circle cx="89" cy="238.6" r="2.3" fill="#000"/>
<circle cx="83.9" cy="243.7" r="2.3" fill="#000"/>
<circle cx="65.5" cy="239.3" r="2.3" fill="#000"/>
<circle cx="68.4" cy="242.3" r="2.3" fill="#000"/>
<circle cx="162" cy="313" r="2.3" fill="#000"/>
<circle cx="164" cy="317" r="2.3" fill="#000"/>
<circle cx="162" cy="321" r="2.3" fill="#000"/>
<circle cx="164" cy="325" r="2.3" fill="#000"/>
<circle cx="162" cy="329" r="2.3" fill="#000"/>
<circle cx="164" cy="333" r="2.3" fill="#000"/>
<circle cx="161" cy="337" r="2.3" fill="#000"/>
<circle cx="163" cy="341" r="2.3" fill="#000"/>
<circle cx="160" cy="345" r="2.3" fill="#000"/>
<circle cx="158" cy="316" r="2.3" fill="#000"/>
<circle cx="158" cy="322" r="2.3" fill="#000"/>
<circle cx="157" cy="328" r="2.3" fill="#000"/>
<circle cx="156" cy="334" r="2.3" fill="#000"/>
<circle cx="150" cy="336" r="2.3" fill="#000"/>
<circle cx="146" cy="338" r="2.3" fill="#000"/>
<circle cx="140" cy="340" r="2.3" fill="#000"/>
<circle cx="153" cy="340" r="2.3" fill="#000"/>
<circle cx="158" cy="338" r="2.3" fill="#000"/>
<circle cx="84" cy="245" r="2.3" fill="#000"/>
<circle cx="90" cy="246" r="2.3" fill="#000"/>
<circle cx="96" cy="250" r="2.3" fill="#000"/>
<circle cx="102" cy="246" r="2.3" fill="#000"/>
<circle cx="107" cy="243" r="2.3" fill="#000"/>
<circle cx="83" cy="255" r="2.3" fill="#000"/>
<circle cx="89" cy="256" r="2.3" fill="#000"/>
<circle cx="94" cy="245" r="2.3" fill="#000"/>
<circle cx="100" cy="256" r="2.3" fill="#000"/>
<circle cx="106" cy="255" r="2.3" fill="#000"/>
<circle cx="110" cy="256" r="2.3" fill="#000"/>
<circle cx="112" cy="258" r="2.3" fill="#000"/>
<path d="M41.5 225.5 L46.9 229.2 L52.3 232.8 L57.8 236.5 L63.2 240.2 L68.6 243.8 L74 247.5 L79.5 251.1 L84.9 254.8 L90.3 258.5 L95.7 262.1 L101.1 265.7 L106.6 269.3 L112 272.9 L117.4 276.4 L122.8 279.8 L128.3 283 L133.7 286.1 L139.1 289.1 L144.5 292 L149.9 294.8 L155.4 297.7 L160.8 300.5 L166.2 303.4 L171.6 306.2 L177.1 309 L182.5 311.8 L187.9 314.7 L193.3 317.5 L198.8 320.3 L204.2 323.1 L209.6 325.9 L215 328.7 L220.4 331.6 L225.9 334.4 L231.3 337.2 L236.7 340 L242.1 342.8 L247.6 345.6 L253 348.5 L258.4 351.3 L258.4 372.5 L253 368.9 L247.6 365.2 L242.1 361.5 L236.7 357.9 L231.3 354.2 L225.9 350.5 L220.4 346.8 L215 343.2 L209.6 339.5 L204.2 335.8 L198.8 332.2 L193.3 328.5 L187.9 324.8 L182.5 321.2 L177.1 317.5 L171.6 313.9 L166.2 310.2 L160.8 306.5 L155.4 302.9 L149.9 299.3 L144.5 295.7 L139.1 292.1 L133.7 288.5 L128.3 285.1 L122.8 281.9 L117.4 278.8 L112 275.8 L106.6 272.9 L101.1 270 L95.7 267.2 L90.3 264.3 L84.9 261.5 L79.5 258.6 L74 255.8 L68.6 253 L63.2 250.2 L57.8 247.4 L52.3 244.5 L46.9 241.7 L41.5 238.9 Z" fill="#999" fill-opacity="0.4"/>
<line x1="41.5" y1="232.3" x2="258.4" y2="361.9" stroke="#3366ff" stroke-width="1.9"/>
<text x="263.6" y="232.9" class="rt" text-anchor="end">r<tspan font-size="6.8" dy="-4.8">2</tspan><tspan dy="4.8">=0.394</tspan></text>
<text x="265.1" y="247.6" class="rt" text-anchor="end"><tspan font-style="italic">p</tspan> &lt;0.001</text>
<text x="150.3" y="403.6" class="at" text-anchor="middle">CCA1</text>
<text transform="translate(12 284.6) rotate(-90)" class="at" text-anchor="middle">WT(°C)</text>
<text x="4.7" y="219.3" class="pl" style="font-size:14.5px">b</text>
<rect x="311.6" y="210.5" width="232.2" height="170.7" fill="none" stroke="#6e6e6e" stroke-width="1"/>
<line x1="316.53" y1="381.2" x2="316.53" y2="383.8" stroke="#444" stroke-width="1"/>
<text x="316.53" y="391.8" class="tk" text-anchor="middle">−1</text>
<line x1="374.5" y1="381.2" x2="374.5" y2="383.8" stroke="#444" stroke-width="1"/>
<text x="374.5" y="391.8" class="tk" text-anchor="middle">0</text>
<line x1="432.47" y1="381.2" x2="432.47" y2="383.8" stroke="#444" stroke-width="1"/>
<text x="432.47" y="391.8" class="tk" text-anchor="middle">1</text>
<line x1="490.44" y1="381.2" x2="490.44" y2="383.8" stroke="#444" stroke-width="1"/>
<text x="490.44" y="391.8" class="tk" text-anchor="middle">2</text>
<line x1="309.0" y1="236.39999999999998" x2="311.6" y2="236.39999999999998" stroke="#444" stroke-width="1"/>
<text x="307" y="239.29999999999998" class="tk" text-anchor="end">0.20</text>
<line x1="309.0" y1="270.9" x2="311.6" y2="270.9" stroke="#444" stroke-width="1"/>
<text x="307" y="273.79999999999995" class="tk" text-anchor="end">0.15</text>
<line x1="309.0" y1="305.4" x2="311.6" y2="305.4" stroke="#444" stroke-width="1"/>
<text x="307" y="308.29999999999995" class="tk" text-anchor="end">0.10</text>
<line x1="309.0" y1="339.9" x2="311.6" y2="339.9" stroke="#444" stroke-width="1"/>
<text x="307" y="342.79999999999995" class="tk" text-anchor="end">0.05</text>
<line x1="309.0" y1="374.4" x2="311.6" y2="374.4" stroke="#444" stroke-width="1"/>
<text x="307" y="377.29999999999995" class="tk" text-anchor="end">0.00</text>
<circle cx="382.5" cy="367.3" r="2.3" fill="#000"/>
<circle cx="436.3" cy="365.8" r="2.3" fill="#000"/>
<circle cx="388.8" cy="367.6" r="2.3" fill="#000"/>
<circle cx="351.9" cy="366.0" r="2.3" fill="#000"/>
<circle cx="402.7" cy="369.9" r="2.3" fill="#000"/>
<circle cx="341.5" cy="363.4" r="2.3" fill="#000"/>
<circle cx="341.2" cy="367.2" r="2.3" fill="#000"/>
<circle cx="410.0" cy="361.5" r="2.3" fill="#000"/>
<circle cx="443.0" cy="370.0" r="2.3" fill="#000"/>
<circle cx="405.5" cy="367.9" r="2.3" fill="#000"/>
<circle cx="348.8" cy="361.2" r="2.3" fill="#000"/>
<circle cx="391.1" cy="361.7" r="2.3" fill="#000"/>
<circle cx="352.5" cy="363.3" r="2.3" fill="#000"/>
<circle cx="334.2" cy="362.3" r="2.3" fill="#000"/>
<circle cx="381.1" cy="370.4" r="2.3" fill="#000"/>
<circle cx="390.1" cy="368.2" r="2.3" fill="#000"/>
<circle cx="387.9" cy="368.4" r="2.3" fill="#000"/>
<circle cx="383.0" cy="364.1" r="2.3" fill="#000"/>
<circle cx="444.7" cy="369.7" r="2.3" fill="#000"/>
<circle cx="426.8" cy="368.7" r="2.3" fill="#000"/>
<circle cx="366.8" cy="363.4" r="2.3" fill="#000"/>
<circle cx="363.8" cy="361.8" r="2.3" fill="#000"/>
<circle cx="418.3" cy="365.5" r="2.3" fill="#000"/>
<circle cx="427.5" cy="365.2" r="2.3" fill="#000"/>
<circle cx="440.2" cy="369.6" r="2.3" fill="#000"/>
<circle cx="354.7" cy="369.2" r="2.3" fill="#000"/>
<circle cx="384.5" cy="372.0" r="2.3" fill="#000"/>
<circle cx="376.2" cy="361.8" r="2.3" fill="#000"/>
<circle cx="402.7" cy="369.7" r="2.3" fill="#000"/>
<circle cx="361.6" cy="361.8" r="2.3" fill="#000"/>
<circle cx="368.8" cy="370.9" r="2.3" fill="#000"/>
<circle cx="417.4" cy="362.3" r="2.3" fill="#000"/>
<circle cx="358.9" cy="361.8" r="2.3" fill="#000"/>
<circle cx="337.6" cy="365.4" r="2.3" fill="#000"/>
<circle cx="351.1" cy="366.6" r="2.3" fill="#000"/>
<circle cx="381.9" cy="363.1" r="2.3" fill="#000"/>
<circle cx="414.4" cy="362.5" r="2.3" fill="#000"/>
<circle cx="404.3" cy="362.3" r="2.3" fill="#000"/>
<circle cx="378.9" cy="363.4" r="2.3" fill="#000"/>
<circle cx="361.6" cy="370.1" r="2.3" fill="#000"/>
<circle cx="422.5" cy="364.4" r="2.3" fill="#000"/>
<circle cx="431.9" cy="363.2" r="2.3" fill="#000"/>
<circle cx="375.8" cy="370.2" r="2.3" fill="#000"/>
<circle cx="404.1" cy="362.1" r="2.3" fill="#000"/>
<circle cx="443.8" cy="363.2" r="2.3" fill="#000"/>
<circle cx="360.3" cy="367.7" r="2.3" fill="#000"/>
<circle cx="368.4" cy="364.1" r="2.3" fill="#000"/>
<circle cx="339.2" cy="361.6" r="2.3" fill="#000"/>
<circle cx="397.3" cy="363.7" r="2.3" fill="#000"/>
<circle cx="399.5" cy="365.2" r="2.3" fill="#000"/>
<circle cx="382.6" cy="371.7" r="2.3" fill="#000"/>
<circle cx="386.0" cy="367.4" r="2.3" fill="#000"/>
<circle cx="429.8" cy="363.0" r="2.3" fill="#000"/>
<circle cx="348.4" cy="370.8" r="2.3" fill="#000"/>
<circle cx="424.2" cy="363.7" r="2.3" fill="#000"/>
<circle cx="352.5" cy="368.2" r="2.3" fill="#000"/>
<circle cx="438.2" cy="363.0" r="2.3" fill="#000"/>
<circle cx="439.3" cy="370.0" r="2.3" fill="#000"/>
<circle cx="399.7" cy="365.7" r="2.3" fill="#000"/>
<circle cx="342.7" cy="361.3" r="2.3" fill="#000"/>
<circle cx="440.7" cy="363.4" r="2.3" fill="#000"/>
<circle cx="411.3" cy="363.9" r="2.3" fill="#000"/>
<circle cx="424.9" cy="367.5" r="2.3" fill="#000"/>
<circle cx="364.3" cy="362.9" r="2.3" fill="#000"/>
<circle cx="413.1" cy="361.8" r="2.3" fill="#000"/>
<circle cx="356.9" cy="365.6" r="2.3" fill="#000"/>
<circle cx="428.1" cy="367.6" r="2.3" fill="#000"/>
<circle cx="362.8" cy="370.3" r="2.3" fill="#000"/>
<circle cx="354.1" cy="361.2" r="2.3" fill="#000"/>
<circle cx="361.5" cy="365.2" r="2.3" fill="#000"/>
<circle cx="337.7" cy="362.0" r="2.3" fill="#000"/>
<circle cx="372.9" cy="367.0" r="2.3" fill="#000"/>
<circle cx="345.8" cy="364.6" r="2.3" fill="#000"/>
<circle cx="432.5" cy="371.4" r="2.3" fill="#000"/>
<circle cx="405.8" cy="368.7" r="2.3" fill="#000"/>
<circle cx="397.5" cy="362.6" r="2.3" fill="#000"/>
<circle cx="334.8" cy="361.1" r="2.3" fill="#000"/>
<circle cx="434.7" cy="368.3" r="2.3" fill="#000"/>
<circle cx="440.7" cy="361.2" r="2.3" fill="#000"/>
<circle cx="403.5" cy="366.4" r="2.3" fill="#000"/>
<circle cx="414.2" cy="364.6" r="2.3" fill="#000"/>
<circle cx="444.9" cy="362.8" r="2.3" fill="#000"/>
<circle cx="393.2" cy="369.3" r="2.3" fill="#000"/>
<circle cx="433.6" cy="368.8" r="2.3" fill="#000"/>
<circle cx="411.2" cy="369.9" r="2.3" fill="#000"/>
<circle cx="435.3" cy="364.7" r="2.3" fill="#000"/>
<circle cx="409.0" cy="371.1" r="2.3" fill="#000"/>
<circle cx="430.3" cy="365.5" r="2.3" fill="#000"/>
<circle cx="421.1" cy="370.6" r="2.3" fill="#000"/>
<circle cx="396.2" cy="368.0" r="2.3" fill="#000"/>
<circle cx="374.5" cy="367.2" r="2.3" fill="#000"/>
<circle cx="400.3" cy="361.9" r="2.3" fill="#000"/>
<circle cx="403.8" cy="372.1" r="2.3" fill="#000"/>
<circle cx="431.3" cy="368.7" r="2.3" fill="#000"/>
<circle cx="375.2" cy="368.8" r="2.3" fill="#000"/>
<circle cx="397.1" cy="365.9" r="2.3" fill="#000"/>
<circle cx="426.5" cy="361.9" r="2.3" fill="#000"/>
<circle cx="416.5" cy="361.3" r="2.3" fill="#000"/>
<circle cx="399.5" cy="366.4" r="2.3" fill="#000"/>
<circle cx="357.1" cy="366.7" r="2.3" fill="#000"/>
<circle cx="387.6" cy="367.9" r="2.3" fill="#000"/>
<circle cx="435.9" cy="363.7" r="2.3" fill="#000"/>
<circle cx="332.1" cy="361.3" r="2.3" fill="#000"/>
<circle cx="408.2" cy="363.3" r="2.3" fill="#000"/>
<circle cx="350.2" cy="370.4" r="2.3" fill="#000"/>
<circle cx="406.2" cy="365.9" r="2.3" fill="#000"/>
<circle cx="432.6" cy="364.5" r="2.3" fill="#000"/>
<circle cx="406.8" cy="363.2" r="2.3" fill="#000"/>
<circle cx="380.0" cy="370.0" r="2.3" fill="#000"/>
<circle cx="435.2" cy="370.2" r="2.3" fill="#000"/>
<circle cx="374.7" cy="367.2" r="2.3" fill="#000"/>
<circle cx="366.9" cy="362.4" r="2.3" fill="#000"/>
<circle cx="387.5" cy="370.4" r="2.3" fill="#000"/>
<circle cx="427.7" cy="368.7" r="2.3" fill="#000"/>
<circle cx="439.3" cy="363.8" r="2.3" fill="#000"/>
<circle cx="350.1" cy="365.7" r="2.3" fill="#000"/>
<circle cx="362.2" cy="363.1" r="2.3" fill="#000"/>
<circle cx="378.1" cy="367.9" r="2.3" fill="#000"/>
<circle cx="387.2" cy="364.5" r="2.3" fill="#000"/>
<circle cx="426.6" cy="371.7" r="2.3" fill="#000"/>
<circle cx="382.5" cy="361.8" r="2.3" fill="#000"/>
<circle cx="334.4" cy="363.6" r="2.3" fill="#000"/>
<circle cx="335.5" cy="363.8" r="2.3" fill="#000"/>
<circle cx="396.0" cy="364.5" r="2.3" fill="#000"/>
<circle cx="421.2" cy="361.2" r="2.3" fill="#000"/>
<circle cx="346.3" cy="365.7" r="2.3" fill="#000"/>
<circle cx="333.6" cy="362.9" r="2.3" fill="#000"/>
<circle cx="357.9" cy="362.1" r="2.3" fill="#000"/>
<circle cx="336.2" cy="363.8" r="2.3" fill="#000"/>
<circle cx="381.8" cy="368.1" r="2.3" fill="#000"/>
<circle cx="405.6" cy="370.0" r="2.3" fill="#000"/>
<circle cx="440.3" cy="367.9" r="2.3" fill="#000"/>
<circle cx="353.6" cy="365.5" r="2.3" fill="#000"/>
<circle cx="351.2" cy="361.1" r="2.3" fill="#000"/>
<circle cx="384.7" cy="369.0" r="2.3" fill="#000"/>
<circle cx="351.3" cy="363.7" r="2.3" fill="#000"/>
<circle cx="370.3" cy="368.1" r="2.3" fill="#000"/>
<circle cx="390.2" cy="367.9" r="2.3" fill="#000"/>
<circle cx="417.2" cy="365.4" r="2.3" fill="#000"/>
<circle cx="421.2" cy="371.1" r="2.3" fill="#000"/>
<circle cx="340.8" cy="367.9" r="2.3" fill="#000"/>
<circle cx="413.3" cy="362.5" r="2.3" fill="#000"/>
<circle cx="382.6" cy="368.0" r="2.3" fill="#000"/>
<circle cx="434.7" cy="364.9" r="2.3" fill="#000"/>
<circle cx="395.8" cy="370.8" r="2.3" fill="#000"/>
<circle cx="421.8" cy="371.5" r="2.3" fill="#000"/>
<circle cx="383.8" cy="368.3" r="2.3" fill="#000"/>
<circle cx="354.2" cy="367.6" r="2.3" fill="#000"/>
<circle cx="424.3" cy="368.0" r="2.3" fill="#000"/>
<circle cx="412.8" cy="363.4" r="2.3" fill="#000"/>
<circle cx="433.6" cy="371.3" r="2.3" fill="#000"/>
<circle cx="442.4" cy="366.1" r="2.3" fill="#000"/>
<circle cx="421.1" cy="364.6" r="2.3" fill="#000"/>
<circle cx="434.7" cy="370.0" r="2.3" fill="#000"/>
<circle cx="370.6" cy="361.8" r="2.3" fill="#000"/>
<circle cx="381.2" cy="367.2" r="2.3" fill="#000"/>
<circle cx="418.5" cy="366.5" r="2.3" fill="#000"/>
<circle cx="334.0" cy="363.1" r="2.3" fill="#000"/>
<circle cx="338.1" cy="365.6" r="2.3" fill="#000"/>
<circle cx="350.5" cy="364.4" r="2.3" fill="#000"/>
<circle cx="420.8" cy="362.6" r="2.3" fill="#000"/>
<circle cx="347.8" cy="366.7" r="2.3" fill="#000"/>
<circle cx="413.4" cy="370.4" r="2.3" fill="#000"/>
<circle cx="409.5" cy="371.6" r="2.3" fill="#000"/>
<circle cx="387.1" cy="371.6" r="2.3" fill="#000"/>
<circle cx="340.6" cy="362.6" r="2.3" fill="#000"/>
<circle cx="390.9" cy="364.2" r="2.3" fill="#000"/>
<circle cx="414.0" cy="368.2" r="2.3" fill="#000"/>
<circle cx="390.5" cy="370.4" r="2.3" fill="#000"/>
<circle cx="394.7" cy="364.5" r="2.3" fill="#000"/>
<circle cx="374.3" cy="370.0" r="2.3" fill="#000"/>
<circle cx="433.6" cy="363.2" r="2.3" fill="#000"/>
<circle cx="428.0" cy="371.5" r="2.3" fill="#000"/>
<circle cx="390.7" cy="367.4" r="2.3" fill="#000"/>
<circle cx="353.8" cy="366.0" r="2.3" fill="#000"/>
<circle cx="388.3" cy="367.8" r="2.3" fill="#000"/>
<circle cx="334.0" cy="363.5" r="2.3" fill="#000"/>
<circle cx="389.7" cy="365.5" r="2.3" fill="#000"/>
<circle cx="422.3" cy="367.2" r="2.3" fill="#000"/>
<circle cx="386.9" cy="368.7" r="2.3" fill="#000"/>
<circle cx="338.3" cy="364.2" r="2.3" fill="#000"/>
<circle cx="378.1" cy="371.5" r="2.3" fill="#000"/>
<circle cx="436.3" cy="363.8" r="2.3" fill="#000"/>
<circle cx="384.8" cy="362.4" r="2.3" fill="#000"/>
<circle cx="380.3" cy="370.1" r="2.3" fill="#000"/>
<circle cx="433.6" cy="366.0" r="2.3" fill="#000"/>
<circle cx="367.0" cy="363.0" r="2.3" fill="#000"/>
<circle cx="401.4" cy="371.4" r="2.3" fill="#000"/>
<circle cx="345.6" cy="368.7" r="2.3" fill="#000"/>
<circle cx="333.4" cy="361.4" r="2.3" fill="#000"/>
<circle cx="356.8" cy="366.7" r="2.3" fill="#000"/>
<circle cx="367.6" cy="364.7" r="2.3" fill="#000"/>
<circle cx="401.6" cy="362.2" r="2.3" fill="#000"/>
<circle cx="414.3" cy="362.4" r="2.3" fill="#000"/>
<circle cx="389.1" cy="363.8" r="2.3" fill="#000"/>
<circle cx="353.4" cy="366.0" r="2.3" fill="#000"/>
<circle cx="380.7" cy="365.2" r="2.3" fill="#000"/>
<circle cx="378.0" cy="366.8" r="2.3" fill="#000"/>
<circle cx="349.0" cy="363.2" r="2.3" fill="#000"/>
<circle cx="402.9" cy="368.2" r="2.3" fill="#000"/>
<circle cx="391.3" cy="370.5" r="2.3" fill="#000"/>
<circle cx="400.7" cy="370.6" r="2.3" fill="#000"/>
<circle cx="357.4" cy="367.0" r="2.3" fill="#000"/>
<circle cx="423.4" cy="371.0" r="2.3" fill="#000"/>
<circle cx="366.9" cy="364.3" r="2.3" fill="#000"/>
<circle cx="436.2" cy="363.3" r="2.3" fill="#000"/>
<circle cx="444.8" cy="368.9" r="2.3" fill="#000"/>
<circle cx="346.1" cy="363.4" r="2.3" fill="#000"/>
<circle cx="413.8" cy="363.9" r="2.3" fill="#000"/>
<circle cx="341.9" cy="367.7" r="2.3" fill="#000"/>
<circle cx="379.0" cy="369.8" r="2.3" fill="#000"/>
<circle cx="345.2" cy="364.9" r="2.3" fill="#000"/>
<circle cx="409.1" cy="361.2" r="2.3" fill="#000"/>
<circle cx="353.7" cy="367.4" r="2.3" fill="#000"/>
<circle cx="434.9" cy="371.1" r="2.3" fill="#000"/>
<circle cx="344.0" cy="365.6" r="2.3" fill="#000"/>
<circle cx="417.4" cy="366.6" r="2.3" fill="#000"/>
<circle cx="409.1" cy="363.1" r="2.3" fill="#000"/>
<circle cx="338.9" cy="361.7" r="2.3" fill="#000"/>
<circle cx="335.1" cy="363.0" r="2.3" fill="#000"/>
<circle cx="389.6" cy="367.4" r="2.3" fill="#000"/>
<circle cx="347.5" cy="363.0" r="2.3" fill="#000"/>
<circle cx="354.1" cy="368.7" r="2.3" fill="#000"/>
<circle cx="443.9" cy="369.4" r="2.3" fill="#000"/>
<circle cx="341.7" cy="361.5" r="2.3" fill="#000"/>
<circle cx="439.5" cy="365.7" r="2.3" fill="#000"/>
<circle cx="418.1" cy="364.7" r="2.3" fill="#000"/>
<circle cx="384.1" cy="366.8" r="2.3" fill="#000"/>
<circle cx="379.9" cy="367.7" r="2.3" fill="#000"/>
<circle cx="332.3" cy="361.8" r="2.3" fill="#000"/>
<circle cx="401.9" cy="360.3" r="2.3" fill="#000"/>
<circle cx="421.6" cy="360.8" r="2.3" fill="#000"/>
<circle cx="415.3" cy="360.8" r="2.3" fill="#000"/>
<circle cx="334.1" cy="360.1" r="2.3" fill="#000"/>
<circle cx="438.5" cy="360.1" r="2.3" fill="#000"/>
<circle cx="433.7" cy="358.6" r="2.3" fill="#000"/>
<circle cx="384.4" cy="359.0" r="2.3" fill="#000"/>
<circle cx="392.9" cy="359.8" r="2.3" fill="#000"/>
<circle cx="332.3" cy="360.4" r="2.3" fill="#000"/>
<circle cx="362.7" cy="360.2" r="2.3" fill="#000"/>
<circle cx="418.2" cy="358.7" r="2.3" fill="#000"/>
<circle cx="421.8" cy="358.7" r="2.3" fill="#000"/>
<circle cx="401.3" cy="358.6" r="2.3" fill="#000"/>
<circle cx="331.0" cy="361.0" r="2.3" fill="#000"/>
<circle cx="354.7" cy="353.9" r="2.3" fill="#000"/>
<circle cx="443.0" cy="361.0" r="2.3" fill="#000"/>
<circle cx="363.8" cy="360.6" r="2.3" fill="#000"/>
<circle cx="392.4" cy="360.1" r="2.3" fill="#000"/>
<circle cx="354.2" cy="360.5" r="2.3" fill="#000"/>
<circle cx="409.7" cy="360.9" r="2.3" fill="#000"/>
<circle cx="432.9" cy="359.1" r="2.3" fill="#000"/>
<circle cx="372.0" cy="357.3" r="2.3" fill="#000"/>
<circle cx="347.4" cy="353.3" r="2.3" fill="#000"/>
<circle cx="365.2" cy="357.3" r="2.3" fill="#000"/>
<circle cx="331.2" cy="360.9" r="2.3" fill="#000"/>
<circle cx="369.4" cy="356.5" r="2.3" fill="#000"/>
<circle cx="424.3" cy="359.6" r="2.3" fill="#000"/>
<circle cx="366.9" cy="356.6" r="2.3" fill="#000"/>
<circle cx="411.3" cy="358.5" r="2.3" fill="#000"/>
<circle cx="442.2" cy="360.0" r="2.3" fill="#000"/>
<circle cx="416.4" cy="360.6" r="2.3" fill="#000"/>
<circle cx="332.9" cy="360.8" r="2.3" fill="#000"/>
<circle cx="372.6" cy="359.3" r="2.3" fill="#000"/>
<circle cx="331.8" cy="360.5" r="2.3" fill="#000"/>
<circle cx="351.5" cy="360.6" r="2.3" fill="#000"/>
<circle cx="353.2" cy="358.7" r="2.3" fill="#000"/>
<circle cx="437.0" cy="360.8" r="2.3" fill="#000"/>
<circle cx="370.1" cy="357.2" r="2.3" fill="#000"/>
<circle cx="390.7" cy="360.4" r="2.3" fill="#000"/>
<circle cx="343.1" cy="358.8" r="2.3" fill="#000"/>
<circle cx="421.8" cy="360.6" r="2.3" fill="#000"/>
<circle cx="335.0" cy="360.9" r="2.3" fill="#000"/>
<circle cx="341.2" cy="356.0" r="2.3" fill="#000"/>
<circle cx="400.6" cy="360.8" r="2.3" fill="#000"/>
<circle cx="369.6" cy="360.5" r="2.3" fill="#000"/>
<circle cx="393.1" cy="359.1" r="2.3" fill="#000"/>
<circle cx="367.0" cy="354.1" r="2.3" fill="#000"/>
<circle cx="339.7" cy="355.9" r="2.3" fill="#000"/>
<circle cx="409.5" cy="361.0" r="2.3" fill="#000"/>
<circle cx="349.2" cy="354.0" r="2.3" fill="#000"/>
<circle cx="391.7" cy="359.4" r="2.3" fill="#000"/>
<circle cx="357.9" cy="358.1" r="2.3" fill="#000"/>
<circle cx="425.2" cy="359.5" r="2.3" fill="#000"/>
<circle cx="379.0" cy="358.5" r="2.3" fill="#000"/>
<circle cx="435.4" cy="358.4" r="2.3" fill="#000"/>
<circle cx="387.2" cy="360.6" r="2.3" fill="#000"/>
<circle cx="345.7" cy="358.6" r="2.3" fill="#000"/>
<circle cx="439.3" cy="360.0" r="2.3" fill="#000"/>
<circle cx="420.8" cy="358.6" r="2.3" fill="#000"/>
<circle cx="380.4" cy="358.7" r="2.3" fill="#000"/>
<circle cx="427.3" cy="359.1" r="2.3" fill="#000"/>
<circle cx="382.6" cy="361.0" r="2.3" fill="#000"/>
<circle cx="428.1" cy="360.9" r="2.3" fill="#000"/>
<circle cx="382.6" cy="359.6" r="2.3" fill="#000"/>
<circle cx="414.1" cy="359.6" r="2.3" fill="#000"/>
<circle cx="364.0" cy="355.1" r="2.3" fill="#000"/>
<circle cx="347.5" cy="355.9" r="2.3" fill="#000"/>
<circle cx="440.4" cy="360.1" r="2.3" fill="#000"/>
<circle cx="387.8" cy="359.2" r="2.3" fill="#000"/>
<circle cx="341.0" cy="355.6" r="2.3" fill="#000"/>
<circle cx="420.1" cy="360.6" r="2.3" fill="#000"/>
<circle cx="372.1" cy="360.0" r="2.3" fill="#000"/>
<circle cx="419.3" cy="360.2" r="2.3" fill="#000"/>
<circle cx="406.6" cy="360.4" r="2.3" fill="#000"/>
<circle cx="372.3" cy="359.7" r="2.3" fill="#000"/>
<circle cx="362.9" cy="355.8" r="2.3" fill="#000"/>
<circle cx="418.7" cy="360.2" r="2.3" fill="#000"/>
<circle cx="364.4" cy="360.5" r="2.3" fill="#000"/>
<circle cx="405.0" cy="359.9" r="2.3" fill="#000"/>
<circle cx="332.1" cy="360.7" r="2.3" fill="#000"/>
<circle cx="359.4" cy="358.2" r="2.3" fill="#000"/>
<circle cx="383.7" cy="360.5" r="2.3" fill="#000"/>
<circle cx="404.7" cy="360.5" r="2.3" fill="#000"/>
<circle cx="370.5" cy="359.0" r="2.3" fill="#000"/>
<circle cx="415.1" cy="360.5" r="2.3" fill="#000"/>
<circle cx="370.8" cy="360.1" r="2.3" fill="#000"/>
<circle cx="430.1" cy="360.2" r="2.3" fill="#000"/>
<circle cx="442.3" cy="361.0" r="2.3" fill="#000"/>
<circle cx="390.0" cy="359.7" r="2.3" fill="#000"/>
<circle cx="349.8" cy="359.8" r="2.3" fill="#000"/>
<circle cx="437.8" cy="359.6" r="2.3" fill="#000"/>
<circle cx="409.8" cy="360.2" r="2.3" fill="#000"/>
<circle cx="414.2" cy="358.8" r="2.3" fill="#000"/>
<circle cx="419.9" cy="359.9" r="2.3" fill="#000"/>
<circle cx="406.8" cy="359.4" r="2.3" fill="#000"/>
<circle cx="402.0" cy="360.4" r="2.3" fill="#000"/>
<circle cx="403.5" cy="360.2" r="2.3" fill="#000"/>
<circle cx="334.0" cy="359.7" r="2.3" fill="#000"/>
<circle cx="381.2" cy="360.1" r="2.3" fill="#000"/>
<circle cx="355.8" cy="358.2" r="2.3" fill="#000"/>
<circle cx="402.8" cy="358.4" r="2.3" fill="#000"/>
<circle cx="384.7" cy="358.9" r="2.3" fill="#000"/>
<circle cx="337.0" cy="358.3" r="2.3" fill="#000"/>
<circle cx="367.0" cy="354.1" r="2.3" fill="#000"/>
<circle cx="352.9" cy="351.9" r="2.3" fill="#000"/>
<circle cx="383.9" cy="359.3" r="2.3" fill="#000"/>
<circle cx="400.7" cy="359.9" r="2.3" fill="#000"/>
<circle cx="358.0" cy="360.3" r="2.3" fill="#000"/>
<circle cx="377.1" cy="359.1" r="2.3" fill="#000"/>
<circle cx="377.6" cy="358.6" r="2.3" fill="#000"/>
<circle cx="352.7" cy="335.5" r="2.3" fill="#000"/>
<circle cx="330.2" cy="345.2" r="2.3" fill="#000"/>
<circle cx="341" cy="345.2" r="2.3" fill="#000"/>
<circle cx="354" cy="346.6" r="2.3" fill="#000"/>
<circle cx="361.2" cy="348.2" r="2.3" fill="#000"/>
<circle cx="367.8" cy="351" r="2.3" fill="#000"/>
<circle cx="322.5" cy="360.9" r="2.3" fill="#000"/>
<circle cx="327.5" cy="359" r="2.3" fill="#000"/>
<circle cx="322.5" cy="368.1" r="2.3" fill="#000"/>
<circle cx="386.2" cy="345.4" r="2.3" fill="#000"/>
<circle cx="391.1" cy="343.7" r="2.3" fill="#000"/>
<circle cx="395.2" cy="347.8" r="2.3" fill="#000"/>
<circle cx="400.9" cy="347" r="2.3" fill="#000"/>
<circle cx="405" cy="346.2" r="2.3" fill="#000"/>
<circle cx="411.6" cy="344.5" r="2.3" fill="#000"/>
<circle cx="416.5" cy="346.2" r="2.3" fill="#000"/>
<circle cx="420.6" cy="347" r="2.3" fill="#000"/>
<circle cx="430.4" cy="342.1" r="2.3" fill="#000"/>
<circle cx="428.7" cy="346.2" r="2.3" fill="#000"/>
<circle cx="440.2" cy="346.2" r="2.3" fill="#000"/>
<circle cx="438.6" cy="350.3" r="2.3" fill="#000"/>
<circle cx="363.3" cy="348.6" r="2.3" fill="#000"/>
<circle cx="367.4" cy="350.3" r="2.3" fill="#000"/>
<circle cx="375.5" cy="351.1" r="2.3" fill="#000"/>
<circle cx="430" cy="342.7" r="2.3" fill="#000"/>
<circle cx="428.3" cy="346.5" r="2.3" fill="#000"/>
<circle cx="440.5" cy="347.1" r="2.3" fill="#000"/>
<circle cx="439.4" cy="349.9" r="2.3" fill="#000"/>
<circle cx="435" cy="351.5" r="2.3" fill="#000"/>
<circle cx="440.5" cy="353.2" r="2.3" fill="#000"/>
<circle cx="445.4" cy="363.1" r="2.3" fill="#000"/>
<circle cx="444.9" cy="365.9" r="2.3" fill="#000"/>
<circle cx="441" cy="347.2" r="2.3" fill="#000"/>
<circle cx="441" cy="353.1" r="2.3" fill="#000"/>
<circle cx="443" cy="359" r="2.3" fill="#000"/>
<circle cx="443.9" cy="363.9" r="2.3" fill="#000"/>
<circle cx="441" cy="367.8" r="2.3" fill="#000"/>
<circle cx="442" cy="369.8" r="2.3" fill="#000"/>
<circle cx="458.7" cy="366.9" r="2.3" fill="#000"/>
<circle cx="461.6" cy="369.8" r="2.3" fill="#000"/>
<circle cx="460.6" cy="361" r="2.3" fill="#000"/>
<circle cx="464.6" cy="357" r="2.3" fill="#000"/>
<circle cx="468.5" cy="353.5" r="2.3" fill="#000"/>
<circle cx="463.6" cy="361.9" r="2.3" fill="#000"/>
<circle cx="466.5" cy="366.9" r="2.3" fill="#000"/>
<circle cx="472.4" cy="367.8" r="2.3" fill="#000"/>
<circle cx="476.4" cy="366.9" r="2.3" fill="#000"/>
<circle cx="476" cy="331.9" r="2.3" fill="#000"/>
<circle cx="478.7" cy="337.4" r="2.3" fill="#000"/>
<circle cx="480.9" cy="346.2" r="2.3" fill="#000"/>
<circle cx="480.3" cy="355.1" r="2.3" fill="#000"/>
<circle cx="480.3" cy="359" r="2.3" fill="#000"/>
<circle cx="488.6" cy="326.5" r="2.3" fill="#000"/>
<circle cx="487.8" cy="335.8" r="2.3" fill="#000"/>
<circle cx="489.2" cy="352.7" r="2.3" fill="#000"/>
<circle cx="488.2" cy="358" r="2.3" fill="#000"/>
<circle cx="488.2" cy="362.9" r="2.3" fill="#000"/>
<circle cx="515.3" cy="361.3" r="2.3" fill="#000"/>
<circle cx="534" cy="361.3" r="2.3" fill="#000"/>
<circle cx="438.1" cy="217.8" r="2.3" fill="#000"/>
<circle cx="470.1" cy="273.4" r="2.3" fill="#000"/>
<circle cx="462.6" cy="359.3" r="2.3" fill="#000"/>
<circle cx="461.5" cy="361.5" r="2.3" fill="#000"/>
<circle cx="464.2" cy="362.6" r="2.3" fill="#000"/>
<circle cx="458.1" cy="366.4" r="2.3" fill="#000"/>
<circle cx="467" cy="366.4" r="2.3" fill="#000"/>
<circle cx="472.5" cy="367.5" r="2.3" fill="#000"/>
<circle cx="477" cy="366.4" r="2.3" fill="#000"/>
<circle cx="386" cy="345.9" r="2.3" fill="#000"/>
<circle cx="391.1" cy="344.5" r="2.3" fill="#000"/>
<circle cx="395.5" cy="348.8" r="2.3" fill="#000"/>
<circle cx="401.3" cy="346.6" r="2.3" fill="#000"/>
<circle cx="405.6" cy="348.1" r="2.3" fill="#000"/>
<circle cx="411.5" cy="345.2" r="2.3" fill="#000"/>
<circle cx="417.3" cy="345.9" r="2.3" fill="#000"/>
<circle cx="421.6" cy="348.1" r="2.3" fill="#000"/>
<circle cx="429.6" cy="343" r="2.3" fill="#000"/>
<circle cx="428.2" cy="346.6" r="2.3" fill="#000"/>
<circle cx="440.5" cy="346.6" r="2.3" fill="#000"/>
<circle cx="439.1" cy="351" r="2.3" fill="#000"/>
<circle cx="384.5" cy="351" r="2.3" fill="#000"/>
<circle cx="388.9" cy="353.2" r="2.3" fill="#000"/>
<circle cx="394" cy="352.5" r="2.3" fill="#000"/>
<circle cx="397.6" cy="354.6" r="2.3" fill="#000"/>
<circle cx="403.5" cy="352.5" r="2.3" fill="#000"/>
<circle cx="410.7" cy="353.2" r="2.3" fill="#000"/>
<circle cx="413.6" cy="355.4" r="2.3" fill="#000"/>
<circle cx="425.3" cy="351" r="2.3" fill="#000"/>
<circle cx="429.6" cy="353.9" r="2.3" fill="#000"/>
<circle cx="434" cy="351.7" r="2.3" fill="#000"/>
<circle cx="435.5" cy="355.4" r="2.3" fill="#000"/>
<circle cx="375.8" cy="351" r="2.3" fill="#000"/>
<circle cx="372.2" cy="352.5" r="2.3" fill="#000"/>
<circle cx="378.7" cy="355.4" r="2.3" fill="#000"/>
<circle cx="372.9" cy="356.8" r="2.3" fill="#000"/>
<circle cx="330" cy="345.5" r="2.3" fill="#000"/>
<circle cx="341" cy="345.5" r="2.3" fill="#000"/>
<circle cx="354.3" cy="346.6" r="2.3" fill="#000"/>
<circle cx="352.6" cy="336.1" r="2.3" fill="#000"/>
<circle cx="322.2" cy="361" r="2.3" fill="#000"/>
<circle cx="327.7" cy="358.8" r="2.3" fill="#000"/>
<circle cx="322.8" cy="367.6" r="2.3" fill="#000"/>
<circle cx="361.5" cy="348.8" r="2.3" fill="#000"/>
<circle cx="367.6" cy="350.5" r="2.3" fill="#000"/>
<circle cx="382" cy="356" r="2.3" fill="#000"/>
<circle cx="392" cy="357" r="2.3" fill="#000"/>
<circle cx="400" cy="356.5" r="2.3" fill="#000"/>
<circle cx="408" cy="356.5" r="2.3" fill="#000"/>
<circle cx="418" cy="356" r="2.3" fill="#000"/>
<circle cx="423" cy="354" r="2.3" fill="#000"/>
<circle cx="444" cy="354" r="2.3" fill="#000"/>
<path d="M322 362.4 L327.3 362.3 L332.6 362.2 L337.8 362.2 L343.1 362.1 L348.4 362 L353.7 361.9 L359 361.8 L364.3 361.7 L369.5 361.6 L374.8 361.5 L380.1 361.4 L385.4 361.2 L390.7 361.1 L396 360.9 L401.2 360.7 L406.5 360.5 L411.8 360.2 L417.1 360 L422.4 359.7 L427.6 359.4 L432.9 359.1 L438.2 358.8 L443.5 358.5 L448.8 358.2 L454.1 357.9 L459.3 357.6 L464.6 357.3 L469.9 357 L475.2 356.6 L480.5 356.3 L485.8 356 L491 355.7 L496.3 355.4 L501.6 355 L506.9 354.7 L512.2 354.4 L517.5 354.1 L522.7 353.7 L528 353.4 L533.3 353.1 L533.3 359.9 L528 360 L522.7 360 L517.5 360.1 L512.2 360.2 L506.9 360.3 L501.6 360.3 L496.3 360.4 L491 360.5 L485.8 360.5 L480.5 360.6 L475.2 360.7 L469.9 360.8 L464.6 360.9 L459.3 360.9 L454.1 361 L448.8 361.1 L443.5 361.2 L438.2 361.3 L432.9 361.4 L427.6 361.5 L422.4 361.6 L417.1 361.7 L411.8 361.8 L406.5 362 L401.2 362.2 L396 362.4 L390.7 362.6 L385.4 362.8 L380.1 363.1 L374.8 363.3 L369.5 363.6 L364.3 363.9 L359 364.2 L353.7 364.5 L348.4 364.8 L343.1 365.1 L337.8 365.5 L332.6 365.8 L327.3 366.1 L322 366.4 Z" fill="#999" fill-opacity="0.4"/>
<line x1="322" y1="364.4" x2="533.3" y2="356.5" stroke="#3366ff" stroke-width="1.9"/>
<text x="535" y="232.7" class="rt" text-anchor="end">r<tspan font-size="6.8" dy="-4.8">2</tspan><tspan dy="4.8">=0.018</tspan></text>
<text x="536" y="246.9" class="rt" text-anchor="end"><tspan font-style="italic">p</tspan> =0.009</text>
<text x="428.4" y="403.7" class="at" text-anchor="middle">CCA1</text>
<text transform="translate(288.2 279.2) rotate(-90)" class="at" style="font-size:11.9px" text-anchor="middle">TP(mg/L)</text>
<text x="278.1" y="219.8" class="pl" style="font-size:14px;font-weight:bold">c</text>
</svg></body></html>
